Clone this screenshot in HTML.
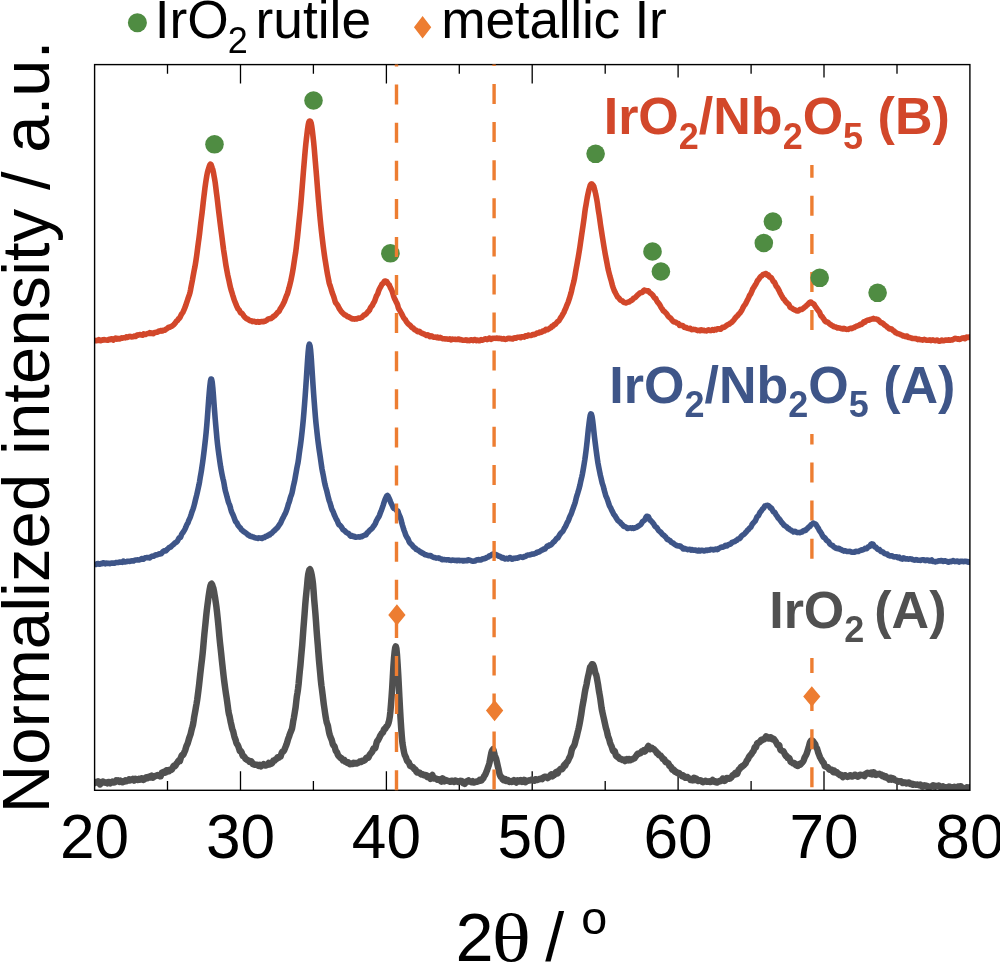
<!DOCTYPE html>
<html><head><meta charset="utf-8"><title>XRD</title>
<style>html,body{margin:0;padding:0;background:#fff}svg{display:block}text{font-family:"Liberation Sans",sans-serif}</style></head><body>
<svg width="1000" height="962" viewBox="0 0 1000 962">
<rect width="1000" height="962" fill="#fff"/>
<path d="M167.5,64.6v9.2M167.5,790.3v-9.2M240.5,64.6v19M240.5,790.3v-19M313.4,64.6v9.2M313.4,790.3v-9.2M386.4,64.6v19M386.4,790.3v-19M459.3,64.6v9.2M459.3,790.3v-9.2M532.2,64.6v19M532.2,790.3v-19M605.2,64.6v9.2M605.2,790.3v-9.2M678.1,64.6v12.9M678.1,790.3v-19M751.1,64.6v9.2M751.1,790.3v-9.2M824.0,64.6v12.9M824.0,790.3v-19M897.0,64.6v9.2M897.0,790.3v-9.2" stroke="#000" stroke-width="1.3" fill="none"/>
<clipPath id="cp"><rect x="94.6" y="64.6" width="875.3" height="725.6999999999999"/></clipPath>
<g clip-path="url(#cp)" fill="none" stroke-linejoin="round" stroke-linecap="round">
<path d="M94.6,783.2 L95.2,781.9 L95.8,782.0 L96.4,782.3 L97.0,782.2 L97.6,781.8 L98.2,781.3 L98.8,781.6 L99.4,783.0 L100.0,784.4 L100.6,783.5 L101.2,782.3 L101.8,782.0 L102.4,781.6 L103.0,781.5 L103.6,782.0 L104.2,782.5 L104.8,782.6 L105.4,782.7 L106.0,782.4 L106.6,782.7 L107.2,783.3 L107.8,782.8 L108.4,782.0 L109.0,782.0 L109.6,782.9 L110.2,783.3 L110.8,782.4 L111.4,782.1 L112.0,782.2 L112.6,781.6 L113.2,781.7 L113.8,782.5 L114.4,782.4 L115.0,782.2 L115.6,781.3 L116.2,780.5 L116.8,781.1 L117.4,780.8 L118.0,780.4 L118.6,781.4 L119.2,781.8 L119.8,781.1 L120.4,780.6 L121.0,781.0 L121.6,781.7 L122.2,782.3 L122.8,782.1 L123.4,781.8 L124.0,781.8 L124.6,781.0 L125.2,780.5 L125.8,781.2 L126.4,781.3 L127.0,780.6 L127.6,780.3 L128.2,779.9 L128.8,779.4 L129.4,780.4 L130.0,780.5 L130.6,779.6 L131.2,779.7 L131.8,780.0 L132.4,779.8 L133.0,778.9 L133.6,779.2 L134.2,780.5 L134.8,780.2 L135.4,778.8 L136.0,779.0 L136.6,779.6 L137.2,779.9 L137.8,780.0 L138.4,779.4 L139.0,778.9 L139.6,779.2 L140.2,779.7 L140.8,779.4 L141.4,778.3 L142.0,778.3 L142.6,779.6 L143.2,779.9 L143.8,779.7 L144.4,779.5 L145.0,778.8 L145.6,777.8 L146.2,777.3 L146.8,777.8 L147.4,778.1 L148.0,777.2 L148.6,776.8 L149.2,777.3 L149.8,777.6 L150.4,777.3 L151.0,776.0 L151.6,775.6 L152.2,776.7 L152.8,777.6 L153.4,777.4 L154.0,776.6 L154.6,776.1 L155.2,776.0 L155.8,776.0 L156.4,775.8 L157.0,775.3 L157.6,775.1 L158.2,775.2 L158.8,775.2 L159.4,775.7 L160.0,776.4 L160.6,776.3 L161.2,774.7 L161.8,772.8 L162.4,772.4 L163.0,772.9 L163.6,772.4 L164.2,771.8 L164.8,772.7 L165.4,772.6 L166.0,771.0 L166.6,770.2 L167.2,770.3 L167.8,770.7 L168.4,771.4 L169.0,771.3 L169.6,770.3 L170.2,769.6 L170.8,769.6 L171.4,769.7 L172.0,769.3 L172.6,768.1 L173.2,766.6 L173.8,765.7 L174.4,765.8 L175.0,766.2 L175.6,765.5 L176.2,764.0 L176.8,763.2 L177.4,762.7 L178.0,761.5 L178.6,760.7 L179.2,761.3 L179.8,761.3 L180.4,759.3 L181.0,757.2 L181.6,755.8 L182.2,755.0 L182.8,755.1 L183.4,754.5 L184.0,753.0 L184.6,751.6 L185.2,750.3 L185.8,748.3 L186.4,746.2 L187.0,744.9 L187.6,743.6 L188.2,741.6 L188.8,739.5 L189.4,737.5 L190.0,735.9 L190.6,734.2 L191.2,731.5 L191.8,729.0 L192.4,726.9 L193.0,724.6 L193.6,721.0 L194.2,716.8 L194.8,713.7 L195.4,710.4 L196.0,706.8 L196.6,703.5 L197.2,699.7 L197.8,695.2 L198.4,690.5 L199.0,685.7 L199.6,680.1 L200.2,674.7 L200.8,669.5 L201.4,664.2 L202.0,659.3 L202.6,653.9 L203.2,647.6 L203.8,640.5 L204.4,633.7 L205.0,628.0 L205.6,622.1 L206.2,615.9 L206.8,610.4 L207.4,605.7 L208.0,601.1 L208.6,596.4 L209.2,592.5 L209.8,588.8 L210.4,585.9 L211.0,584.3 L211.6,583.8 L212.2,584.9 L212.8,586.7 L213.4,588.4 L214.0,591.3 L214.6,595.0 L215.2,598.4 L215.8,602.4 L216.4,606.7 L217.0,611.8 L217.6,617.7 L218.2,623.5 L218.8,630.0 L219.4,636.7 L220.0,642.8 L220.6,648.2 L221.2,653.6 L221.8,659.6 L222.4,665.1 L223.0,670.6 L223.6,676.0 L224.2,681.0 L224.8,685.5 L225.4,689.9 L226.0,693.9 L226.6,697.7 L227.2,702.0 L227.8,706.4 L228.4,711.1 L229.0,714.3 L229.6,716.3 L230.2,719.5 L230.8,722.5 L231.4,725.0 L232.0,727.9 L232.6,729.8 L233.2,731.4 L233.8,734.1 L234.4,736.6 L235.0,738.3 L235.6,739.9 L236.2,742.3 L236.8,743.9 L237.4,744.4 L238.0,745.6 L238.6,747.2 L239.2,749.0 L239.8,750.9 L240.4,751.4 L241.0,751.3 L241.6,752.2 L242.2,754.3 L242.8,756.0 L243.4,756.1 L244.0,756.4 L244.6,757.2 L245.2,758.4 L245.8,759.3 L246.4,759.3 L247.0,759.6 L247.6,760.3 L248.2,760.3 L248.8,760.7 L249.4,761.8 L250.0,762.0 L250.6,761.6 L251.2,761.4 L251.8,762.0 L252.4,763.2 L253.0,764.1 L253.6,764.4 L254.2,764.7 L254.8,764.6 L255.4,764.5 L256.0,764.8 L256.6,764.9 L257.2,764.8 L257.8,765.4 L258.4,765.8 L259.0,765.2 L259.6,764.9 L260.2,765.8 L260.8,766.3 L261.4,765.4 L262.0,764.8 L262.6,765.3 L263.2,765.1 L263.8,764.3 L264.4,764.9 L265.0,765.4 L265.6,765.0 L266.2,765.4 L266.8,765.1 L267.4,764.2 L268.0,763.7 L268.6,763.0 L269.2,763.6 L269.8,764.3 L270.4,763.9 L271.0,763.9 L271.6,763.6 L272.2,763.1 L272.8,761.9 L273.4,760.4 L274.0,760.5 L274.6,760.7 L275.2,759.6 L275.8,759.2 L276.4,759.3 L277.0,758.4 L277.6,757.2 L278.2,757.4 L278.8,757.6 L279.4,757.0 L280.0,756.9 L280.6,756.5 L281.2,754.6 L281.8,752.6 L282.4,751.6 L283.0,751.6 L283.6,751.3 L284.2,750.2 L284.8,748.8 L285.4,747.2 L286.0,745.8 L286.6,744.2 L287.2,742.3 L287.8,740.1 L288.4,738.2 L289.0,736.8 L289.6,734.8 L290.2,733.2 L290.8,731.7 L291.4,730.3 L292.0,728.7 L292.6,725.2 L293.2,721.2 L293.8,718.3 L294.4,714.8 L295.0,711.0 L295.6,707.4 L296.2,702.0 L296.8,696.8 L297.4,693.3 L298.0,689.2 L298.6,684.1 L299.2,677.5 L299.8,671.3 L300.4,665.6 L301.0,658.5 L301.6,651.8 L302.2,645.2 L302.8,637.1 L303.4,628.8 L304.0,621.2 L304.6,613.4 L305.2,605.3 L305.8,598.2 L306.4,592.2 L307.0,586.2 L307.6,579.5 L308.2,574.5 L308.8,571.7 L309.4,569.8 L310.0,569.2 L310.6,570.5 L311.2,572.7 L311.8,575.5 L312.4,579.2 L313.0,584.0 L313.6,591.3 L314.2,599.7 L314.8,606.5 L315.4,613.5 L316.0,621.6 L316.6,630.2 L317.2,637.9 L317.8,645.1 L318.4,653.0 L319.0,660.5 L319.6,666.9 L320.2,673.3 L320.8,679.9 L321.4,685.4 L322.0,689.8 L322.6,694.5 L323.2,699.5 L323.8,704.3 L324.4,708.4 L325.0,712.6 L325.6,716.5 L326.2,719.9 L326.8,722.7 L327.4,724.3 L328.0,726.3 L328.6,729.7 L329.2,732.9 L329.8,735.0 L330.4,736.8 L331.0,738.2 L331.6,739.6 L332.2,741.7 L332.8,744.1 L333.4,745.3 L334.0,745.7 L334.6,746.7 L335.2,748.8 L335.8,751.0 L336.4,751.6 L337.0,752.3 L337.6,754.1 L338.2,755.5 L338.8,756.1 L339.4,756.7 L340.0,757.4 L340.6,757.9 L341.2,758.0 L341.8,758.5 L342.4,759.5 L343.0,760.5 L343.6,760.5 L344.2,759.9 L344.8,760.8 L345.4,761.8 L346.0,761.7 L346.6,762.2 L347.2,762.9 L347.8,762.8 L348.4,762.4 L349.0,762.9 L349.6,764.0 L350.2,764.3 L350.8,763.8 L351.4,763.6 L352.0,764.0 L352.6,764.0 L353.2,763.0 L353.8,762.7 L354.4,763.1 L355.0,762.9 L355.6,763.0 L356.2,763.6 L356.8,763.5 L357.4,763.1 L358.0,762.9 L358.6,762.4 L359.2,762.2 L359.8,761.5 L360.4,761.4 L361.0,762.0 L361.6,761.6 L362.2,760.8 L362.8,760.8 L363.4,760.9 L364.0,760.4 L364.6,760.2 L365.2,759.8 L365.8,758.6 L366.4,757.7 L367.0,757.6 L367.6,757.9 L368.2,757.8 L368.8,756.8 L369.4,755.3 L370.0,754.4 L370.6,753.8 L371.2,752.9 L371.8,752.3 L372.4,751.3 L373.0,749.6 L373.6,748.5 L374.2,748.2 L374.8,748.5 L375.4,747.7 L376.0,745.3 L376.6,742.7 L377.2,741.0 L377.8,740.6 L378.4,739.7 L379.0,738.4 L379.6,737.3 L380.2,735.8 L380.8,734.9 L381.4,734.0 L382.0,732.9 L382.6,732.9 L383.2,732.0 L383.8,729.7 L384.4,728.8 L385.0,729.1 L385.6,728.3 L386.2,726.9 L386.8,726.3 L387.4,725.6 L388.0,724.4 L388.6,722.7 L389.2,720.2 L389.8,716.8 L390.4,711.4 L391.0,704.4 L391.6,696.6 L392.2,687.6 L392.8,677.1 L393.4,666.8 L394.0,658.4 L394.6,652.0 L395.2,647.8 L395.8,646.4 L396.4,648.6 L397.0,654.9 L397.6,663.9 L398.2,674.0 L398.8,685.2 L399.4,697.2 L400.0,708.5 L400.6,719.0 L401.2,728.2 L401.8,736.3 L402.4,742.7 L403.0,746.7 L403.6,749.9 L404.2,753.0 L404.8,755.2 L405.4,756.2 L406.0,757.6 L406.6,759.5 L407.2,760.9 L407.8,761.6 L408.4,761.9 L409.0,762.8 L409.6,764.5 L410.2,765.9 L410.8,766.2 L411.4,766.5 L412.0,766.9 L412.6,766.9 L413.2,767.5 L413.8,768.4 L414.4,769.2 L415.0,769.3 L415.6,769.7 L416.2,771.4 L416.8,772.3 L417.4,771.9 L418.0,772.1 L418.6,772.8 L419.2,772.7 L419.8,772.8 L420.4,773.7 L421.0,774.2 L421.6,774.6 L422.2,774.6 L422.8,774.3 L423.4,774.9 L424.0,775.3 L424.6,775.0 L425.2,775.0 L425.8,774.9 L426.4,775.3 L427.0,776.7 L427.6,777.2 L428.2,777.2 L428.8,777.3 L429.4,776.8 L430.0,777.5 L430.6,778.8 L431.2,778.1 L431.8,775.7 L432.4,775.0 L433.0,776.8 L433.6,778.4 L434.2,778.3 L434.8,778.4 L435.4,778.7 L436.0,778.5 L436.6,779.0 L437.2,779.7 L437.8,779.8 L438.4,779.4 L439.0,779.3 L439.6,779.5 L440.2,779.9 L440.8,781.1 L441.4,781.5 L442.0,779.5 L442.6,778.3 L443.2,779.2 L443.8,780.5 L444.4,781.3 L445.0,781.0 L445.6,780.0 L446.2,780.1 L446.8,780.7 L447.4,780.6 L448.0,780.9 L448.6,781.1 L449.2,781.4 L449.8,781.7 L450.4,781.8 L451.0,781.4 L451.6,780.7 L452.2,780.9 L452.8,781.3 L453.4,781.7 L454.0,781.9 L454.6,781.2 L455.2,780.5 L455.8,780.6 L456.4,781.2 L457.0,781.5 L457.6,781.5 L458.2,782.0 L458.8,781.9 L459.4,781.1 L460.0,780.8 L460.6,781.5 L461.2,781.6 L461.8,781.1 L462.4,782.3 L463.0,783.1 L463.6,782.5 L464.2,782.8 L464.8,783.7 L465.4,782.9 L466.0,781.6 L466.6,781.4 L467.2,781.6 L467.8,780.9 L468.4,780.5 L469.0,781.3 L469.6,781.6 L470.2,781.6 L470.8,781.9 L471.4,782.1 L472.0,781.5 L472.6,781.2 L473.2,782.1 L473.8,782.5 L474.4,782.2 L475.0,782.3 L475.6,781.8 L476.2,781.6 L476.8,781.8 L477.4,781.5 L478.0,781.3 L478.6,781.1 L479.2,780.6 L479.8,779.8 L480.4,779.9 L481.0,780.6 L481.6,780.3 L482.2,779.4 L482.8,778.8 L483.4,778.0 L484.0,776.5 L484.6,775.5 L485.2,774.8 L485.8,773.4 L486.4,771.8 L487.0,770.4 L487.6,768.5 L488.2,766.8 L488.8,765.3 L489.4,763.0 L490.0,760.0 L490.6,756.7 L491.2,753.5 L491.8,751.4 L492.4,750.0 L493.0,749.3 L493.6,750.4 L494.2,753.0 L494.8,755.4 L495.4,756.9 L496.0,758.4 L496.6,760.8 L497.2,763.5 L497.8,766.2 L498.4,768.7 L499.0,771.6 L499.6,774.3 L500.2,775.8 L500.8,776.9 L501.4,777.1 L502.0,777.6 L502.6,779.3 L503.2,780.0 L503.8,779.5 L504.4,779.1 L505.0,779.1 L505.6,780.0 L506.2,781.0 L506.8,780.7 L507.4,780.0 L508.0,780.0 L508.6,781.1 L509.2,781.9 L509.8,781.9 L510.4,781.2 L511.0,781.1 L511.6,782.0 L512.2,781.8 L512.8,781.5 L513.4,781.2 L514.0,780.3 L514.6,780.7 L515.2,781.5 L515.8,782.0 L516.4,782.5 L517.0,781.6 L517.6,780.4 L518.2,780.7 L518.8,781.5 L519.4,781.2 L520.0,780.2 L520.6,780.1 L521.2,781.3 L521.8,781.7 L522.4,780.8 L523.0,780.7 L523.6,780.9 L524.2,779.8 L524.8,780.7 L525.4,782.2 L526.0,781.6 L526.6,780.7 L527.2,780.7 L527.8,780.9 L528.4,780.5 L529.0,780.6 L529.6,780.5 L530.2,780.3 L530.8,780.3 L531.4,779.7 L532.0,779.6 L532.6,780.0 L533.2,780.1 L533.8,780.6 L534.4,780.7 L535.0,779.9 L535.6,779.3 L536.2,779.2 L536.8,779.6 L537.4,779.9 L538.0,779.7 L538.6,779.5 L539.2,779.1 L539.8,778.9 L540.4,779.0 L541.0,778.5 L541.6,778.9 L542.2,779.2 L542.8,778.2 L543.4,777.5 L544.0,777.0 L544.6,776.8 L545.2,776.7 L545.8,776.8 L546.4,777.1 L547.0,777.7 L547.6,778.1 L548.2,777.7 L548.8,777.1 L549.4,776.5 L550.0,775.8 L550.6,774.9 L551.2,774.4 L551.8,775.4 L552.4,776.3 L553.0,775.5 L553.6,774.9 L554.2,775.0 L554.8,774.0 L555.4,772.8 L556.0,772.1 L556.6,771.9 L557.2,772.7 L557.8,773.2 L558.4,771.8 L559.0,770.4 L559.6,770.0 L560.2,769.4 L560.8,768.7 L561.4,768.9 L562.0,769.1 L562.6,768.5 L563.2,767.4 L563.8,765.5 L564.4,764.8 L565.0,765.7 L565.6,764.9 L566.2,762.9 L566.8,762.1 L567.4,761.7 L568.0,760.9 L568.6,759.5 L569.2,758.0 L569.8,757.0 L570.4,755.8 L571.0,753.7 L571.6,750.7 L572.2,748.6 L572.8,747.7 L573.4,746.6 L574.0,745.8 L574.6,744.5 L575.2,742.1 L575.8,739.6 L576.4,737.7 L577.0,735.4 L577.6,732.6 L578.2,730.3 L578.8,727.7 L579.4,724.8 L580.0,721.7 L580.6,718.1 L581.2,714.6 L581.8,710.6 L582.4,706.6 L583.0,703.4 L583.6,700.2 L584.2,696.4 L584.8,692.6 L585.4,689.3 L586.0,686.9 L586.6,684.1 L587.2,680.6 L587.8,677.6 L588.4,675.1 L589.0,672.6 L589.6,669.3 L590.2,666.9 L590.8,666.5 L591.4,665.4 L592.0,664.3 L592.6,664.2 L593.2,664.9 L593.8,666.4 L594.4,668.7 L595.0,671.8 L595.6,673.8 L596.2,674.9 L596.8,677.6 L597.4,681.0 L598.0,684.3 L598.6,688.5 L599.2,692.4 L599.8,695.5 L600.4,699.3 L601.0,703.8 L601.6,708.1 L602.2,711.3 L602.8,713.9 L603.4,716.6 L604.0,719.3 L604.6,722.0 L605.2,724.8 L605.8,727.5 L606.4,729.4 L607.0,731.6 L607.6,734.7 L608.2,736.9 L608.8,738.1 L609.4,740.1 L610.0,742.6 L610.6,744.2 L611.2,745.4 L611.8,747.0 L612.4,748.9 L613.0,750.8 L613.6,751.4 L614.2,750.8 L614.8,751.4 L615.4,753.8 L616.0,755.7 L616.6,756.4 L617.2,756.8 L617.8,756.5 L618.4,756.8 L619.0,758.1 L619.6,759.0 L620.2,758.9 L620.8,758.7 L621.4,759.1 L622.0,759.7 L622.6,760.1 L623.2,759.9 L623.8,759.6 L624.4,760.2 L625.0,761.0 L625.6,760.6 L626.2,759.7 L626.8,759.2 L627.4,759.8 L628.0,760.2 L628.6,759.1 L629.2,759.0 L629.8,760.1 L630.4,760.2 L631.0,759.6 L631.6,759.5 L632.2,759.5 L632.8,759.0 L633.4,758.7 L634.0,758.5 L634.6,758.2 L635.2,757.3 L635.8,756.4 L636.4,755.7 L637.0,754.5 L637.6,753.8 L638.2,754.1 L638.8,753.8 L639.4,753.3 L640.0,753.1 L640.6,753.3 L641.2,752.4 L641.8,751.2 L642.4,751.4 L643.0,751.3 L643.6,750.5 L644.2,750.9 L644.8,751.5 L645.4,750.7 L646.0,749.3 L646.6,748.8 L647.2,748.5 L647.8,747.0 L648.4,746.0 L649.0,746.8 L649.6,748.1 L650.2,749.2 L650.8,748.8 L651.4,747.7 L652.0,748.0 L652.6,748.7 L653.2,748.8 L653.8,749.0 L654.4,749.8 L655.0,750.4 L655.6,750.9 L656.2,751.8 L656.8,753.1 L657.4,753.3 L658.0,753.2 L658.6,754.6 L659.2,755.3 L659.8,755.3 L660.4,755.4 L661.0,756.1 L661.6,757.0 L662.2,757.8 L662.8,758.9 L663.4,759.1 L664.0,759.0 L664.6,760.0 L665.2,761.5 L665.8,762.1 L666.4,762.1 L667.0,762.6 L667.6,763.0 L668.2,763.1 L668.8,764.2 L669.4,765.9 L670.0,766.3 L670.6,766.4 L671.2,767.2 L671.8,768.9 L672.4,769.7 L673.0,769.5 L673.6,769.5 L674.2,770.2 L674.8,771.6 L675.4,771.8 L676.0,771.6 L676.6,772.5 L677.2,773.0 L677.8,773.2 L678.4,773.3 L679.0,773.1 L679.6,773.6 L680.2,774.5 L680.8,774.6 L681.4,775.1 L682.0,776.2 L682.6,776.0 L683.2,775.4 L683.8,775.9 L684.4,777.1 L685.0,777.7 L685.6,777.8 L686.2,777.5 L686.8,776.9 L687.4,777.0 L688.0,777.7 L688.6,778.3 L689.2,778.2 L689.8,778.6 L690.4,779.9 L691.0,779.6 L691.6,779.4 L692.2,780.3 L692.8,780.4 L693.4,779.2 L694.0,777.8 L694.6,778.7 L695.2,780.0 L695.8,779.6 L696.4,778.7 L697.0,779.1 L697.6,780.7 L698.2,781.0 L698.8,780.3 L699.4,780.4 L700.0,780.5 L700.6,780.2 L701.2,780.6 L701.8,781.4 L702.4,782.0 L703.0,782.2 L703.6,781.6 L704.2,781.2 L704.8,781.3 L705.4,780.8 L706.0,780.9 L706.6,781.7 L707.2,781.7 L707.8,781.7 L708.4,781.7 L709.0,781.3 L709.6,781.8 L710.2,782.1 L710.8,781.8 L711.4,781.6 L712.0,780.6 L712.6,780.0 L713.2,780.5 L713.8,781.2 L714.4,781.9 L715.0,781.8 L715.6,781.3 L716.2,781.7 L716.8,782.6 L717.4,782.5 L718.0,781.9 L718.6,781.5 L719.2,781.0 L719.8,781.0 L720.4,781.2 L721.0,781.0 L721.6,780.5 L722.2,779.4 L722.8,778.5 L723.4,778.6 L724.0,779.7 L724.6,780.9 L725.2,780.5 L725.8,778.8 L726.4,778.3 L727.0,779.2 L727.6,778.9 L728.2,778.1 L728.8,778.5 L729.4,778.7 L730.0,778.5 L730.6,778.1 L731.2,777.6 L731.8,776.7 L732.4,775.6 L733.0,775.1 L733.6,775.1 L734.2,774.8 L734.8,773.6 L735.4,772.9 L736.0,773.6 L736.6,774.1 L737.2,773.8 L737.8,772.3 L738.4,770.3 L739.0,769.4 L739.6,769.2 L740.2,768.3 L740.8,767.1 L741.4,767.2 L742.0,766.9 L742.6,765.8 L743.2,765.6 L743.8,765.4 L744.4,764.6 L745.0,764.0 L745.6,763.3 L746.2,762.0 L746.8,760.7 L747.4,759.9 L748.0,759.2 L748.6,757.7 L749.2,756.5 L749.8,756.0 L750.4,755.0 L751.0,754.5 L751.6,754.0 L752.2,752.7 L752.8,751.7 L753.4,751.2 L754.0,749.8 L754.6,747.5 L755.2,746.9 L755.8,747.4 L756.4,746.0 L757.0,743.7 L757.6,743.0 L758.2,742.9 L758.8,742.4 L759.4,742.2 L760.0,741.8 L760.6,740.8 L761.2,739.9 L761.8,740.3 L762.4,740.3 L763.0,739.2 L763.6,739.2 L764.2,739.2 L764.8,738.4 L765.4,737.3 L766.0,736.3 L766.6,736.5 L767.2,737.6 L767.8,738.3 L768.4,738.5 L769.0,738.5 L769.6,738.2 L770.2,737.4 L770.8,737.2 L771.4,738.3 L772.0,739.1 L772.6,738.9 L773.2,738.6 L773.8,739.0 L774.4,739.8 L775.0,740.7 L775.6,741.4 L776.2,742.4 L776.8,743.6 L777.4,744.8 L778.0,745.4 L778.6,744.8 L779.2,745.1 L779.8,747.6 L780.4,749.6 L781.0,750.3 L781.6,750.5 L782.2,751.0 L782.8,751.2 L783.4,751.3 L784.0,752.4 L784.6,753.8 L785.2,755.0 L785.8,755.9 L786.4,755.7 L787.0,756.5 L787.6,758.0 L788.2,757.9 L788.8,757.7 L789.4,758.3 L790.0,759.9 L790.6,761.7 L791.2,762.3 L791.8,762.3 L792.4,762.6 L793.0,763.3 L793.6,763.4 L794.2,763.1 L794.8,763.6 L795.4,764.7 L796.0,765.3 L796.6,765.2 L797.2,765.8 L797.8,766.0 L798.4,764.6 L799.0,764.1 L799.6,764.9 L800.2,764.8 L800.8,764.0 L801.4,763.4 L802.0,762.7 L802.6,762.1 L803.2,761.3 L803.8,760.1 L804.4,758.2 L805.0,756.9 L805.6,755.9 L806.2,754.7 L806.8,753.4 L807.4,751.4 L808.0,749.4 L808.6,747.7 L809.2,745.4 L809.8,743.0 L810.4,741.6 L811.0,740.8 L811.6,740.3 L812.2,740.5 L812.8,740.9 L813.4,741.6 L814.0,742.7 L814.6,743.4 L815.2,744.2 L815.8,746.2 L816.4,747.6 L817.0,748.4 L817.6,750.4 L818.2,752.5 L818.8,754.1 L819.4,755.7 L820.0,757.2 L820.6,758.3 L821.2,759.3 L821.8,760.4 L822.4,761.5 L823.0,762.3 L823.6,762.7 L824.2,764.3 L824.8,766.1 L825.4,766.5 L826.0,766.7 L826.6,767.1 L827.2,766.9 L827.8,767.2 L828.4,768.0 L829.0,769.1 L829.6,769.7 L830.2,769.9 L830.8,770.0 L831.4,769.7 L832.0,769.9 L832.6,771.3 L833.2,772.1 L833.8,771.2 L834.4,770.8 L835.0,772.1 L835.6,772.5 L836.2,772.0 L836.8,772.1 L837.4,772.8 L838.0,773.8 L838.6,774.0 L839.2,774.2 L839.8,775.3 L840.4,775.2 L841.0,774.8 L841.6,775.3 L842.2,776.1 L842.8,777.1 L843.4,776.7 L844.0,775.6 L844.6,775.2 L845.2,775.3 L845.8,775.8 L846.4,776.1 L847.0,776.4 L847.6,776.9 L848.2,776.6 L848.8,776.5 L849.4,776.3 L850.0,775.2 L850.6,775.4 L851.2,776.4 L851.8,776.5 L852.4,776.5 L853.0,776.4 L853.6,776.0 L854.2,775.5 L854.8,774.7 L855.4,774.9 L856.0,775.9 L856.6,775.5 L857.2,775.6 L857.8,776.7 L858.4,776.5 L859.0,775.4 L859.6,774.9 L860.2,774.8 L860.8,774.7 L861.4,775.1 L862.0,775.2 L862.6,775.1 L863.2,775.3 L863.8,775.7 L864.4,776.1 L865.0,775.2 L865.6,773.8 L866.2,773.7 L866.8,773.0 L867.4,772.8 L868.0,773.4 L868.6,773.3 L869.2,773.4 L869.8,773.8 L870.4,773.0 L871.0,772.7 L871.6,773.6 L872.2,774.3 L872.8,773.5 L873.4,772.3 L874.0,772.4 L874.6,773.7 L875.2,774.8 L875.8,774.9 L876.4,774.7 L877.0,774.6 L877.6,774.1 L878.2,774.3 L878.8,774.3 L879.4,773.8 L880.0,774.3 L880.6,774.7 L881.2,774.6 L881.8,775.4 L882.4,776.3 L883.0,776.1 L883.6,775.6 L884.2,776.2 L884.8,777.3 L885.4,777.1 L886.0,776.5 L886.6,777.2 L887.2,778.0 L887.8,777.9 L888.4,778.6 L889.0,779.5 L889.6,778.8 L890.2,777.9 L890.8,777.7 L891.4,778.5 L892.0,779.7 L892.6,779.2 L893.2,778.4 L893.8,778.8 L894.4,779.8 L895.0,780.3 L895.6,780.3 L896.2,780.6 L896.8,780.7 L897.4,781.1 L898.0,781.7 L898.6,781.6 L899.2,781.3 L899.8,781.5 L900.4,781.6 L901.0,781.3 L901.6,781.9 L902.2,782.9 L902.8,783.1 L903.4,782.8 L904.0,782.6 L904.6,782.6 L905.2,782.5 L905.8,782.8 L906.4,783.5 L907.0,783.3 L907.6,782.8 L908.2,782.4 L908.8,782.5 L909.4,783.5 L910.0,783.9 L910.6,783.6 L911.2,783.5 L911.8,783.9 L912.4,784.8 L913.0,784.7 L913.6,784.2 L914.2,784.6 L914.8,784.6 L915.4,784.4 L916.0,784.8 L916.6,784.8 L917.2,784.5 L917.8,784.6 L918.4,785.0 L919.0,785.2 L919.6,784.9 L920.2,784.5 L920.8,784.9 L921.4,785.9 L922.0,786.4 L922.6,786.4 L923.2,786.5 L923.8,785.8 L924.4,785.3 L925.0,785.6 L925.6,785.6 L926.2,786.2 L926.8,786.6 L927.4,786.1 L928.0,786.7 L928.6,787.7 L929.2,787.1 L929.8,786.7 L930.4,786.8 L931.0,786.5 L931.6,786.4 L932.2,785.9 L932.8,785.5 L933.4,786.3 L934.0,786.0 L934.6,785.8 L935.2,786.6 L935.8,786.4 L936.4,786.0 L937.0,786.1 L937.6,785.9 L938.2,785.6 L938.8,785.5 L939.4,786.0 L940.0,786.9 L940.6,787.2 L941.2,787.4 L941.8,787.6 L942.4,787.1 L943.0,786.5 L943.6,787.2 L944.2,788.0 L944.8,787.7 L945.4,787.3 L946.0,787.3 L946.6,787.5 L947.2,787.6 L947.8,787.3 L948.4,787.0 L949.0,786.5 L949.6,786.7 L950.2,787.6 L950.8,788.2 L951.4,788.2 L952.0,787.5 L952.6,787.2 L953.2,787.8 L953.8,787.6 L954.4,787.0 L955.0,787.7 L955.6,788.6 L956.2,788.4 L956.8,787.0 L957.4,786.8 L958.0,787.2 L958.6,786.6 L959.2,786.4 L959.8,786.5 L960.4,786.2 L961.0,786.2 L961.6,787.3 L962.2,788.4 L962.8,788.5 L963.4,788.1 L964.0,788.2 L964.6,788.8 L965.2,788.9 L965.8,788.2 L966.4,787.4 L967.0,787.3 L967.6,787.5 L968.2,787.9 L968.8,787.9 L969.4,787.4" stroke="#505050" stroke-width="6.5"/>
<path d="M811.9,165.0V177.7M811.9,195.8V215.8M811.9,233.9V253.9M811.9,272.0V292.0M811.9,310.1V330.1M811.9,434.0V444.4M811.9,462.5V482.5M811.9,500.6V520.6M811.9,538.7V558.7M811.9,658.0V673.0M811.9,691.1V711.1M811.9,729.2V749.2M811.9,767.3V787.3" stroke="#ED7D31" stroke-width="3.4" stroke-linecap="butt"/>
<path d="M94.6,564.4 L95.2,564.5 L95.8,564.5 L96.4,564.2 L97.0,563.8 L97.6,563.5 L98.2,563.6 L98.8,564.0 L99.4,564.3 L100.0,564.1 L100.6,563.7 L101.2,563.5 L101.8,563.7 L102.4,563.4 L103.0,562.8 L103.6,562.8 L104.2,563.1 L104.8,563.4 L105.4,563.8 L106.0,563.5 L106.6,563.0 L107.2,563.3 L107.8,563.5 L108.4,563.3 L109.0,563.3 L109.6,563.6 L110.2,563.6 L110.8,563.3 L111.4,563.0 L112.0,563.1 L112.6,563.1 L113.2,563.1 L113.8,563.2 L114.4,563.3 L115.0,563.0 L115.6,562.7 L116.2,562.5 L116.8,562.5 L117.4,562.5 L118.0,562.6 L118.6,562.5 L119.2,562.1 L119.8,562.1 L120.4,562.3 L121.0,562.1 L121.6,562.0 L122.2,562.3 L122.8,561.9 L123.4,561.1 L124.0,561.4 L124.6,562.0 L125.2,561.9 L125.8,561.7 L126.4,561.7 L127.0,561.4 L127.6,561.2 L128.2,561.2 L128.8,561.3 L129.4,561.4 L130.0,561.4 L130.6,561.2 L131.2,561.1 L131.8,560.7 L132.4,560.7 L133.0,561.0 L133.6,560.9 L134.2,560.6 L134.8,560.3 L135.4,560.0 L136.0,560.0 L136.6,560.0 L137.2,559.8 L137.8,559.8 L138.4,560.0 L139.0,560.0 L139.6,559.7 L140.2,559.6 L140.8,559.4 L141.4,558.7 L142.0,558.6 L142.6,559.2 L143.2,559.3 L143.8,558.8 L144.4,558.4 L145.0,557.9 L145.6,557.7 L146.2,557.7 L146.8,557.6 L147.4,557.6 L148.0,557.5 L148.6,557.6 L149.2,558.0 L149.8,557.8 L150.4,557.2 L151.0,556.8 L151.6,556.3 L152.2,556.1 L152.8,556.3 L153.4,556.3 L154.0,555.8 L154.6,555.6 L155.2,555.2 L155.8,554.7 L156.4,554.9 L157.0,555.0 L157.6,554.6 L158.2,554.4 L158.8,554.1 L159.4,553.7 L160.0,553.8 L160.6,553.9 L161.2,553.7 L161.8,553.1 L162.4,552.2 L163.0,551.6 L163.6,551.2 L164.2,550.8 L164.8,550.7 L165.4,551.0 L166.0,550.7 L166.6,550.0 L167.2,549.5 L167.8,548.8 L168.4,548.3 L169.0,547.7 L169.6,547.3 L170.2,547.2 L170.8,546.9 L171.4,546.3 L172.0,545.6 L172.6,545.1 L173.2,544.6 L173.8,544.2 L174.4,543.6 L175.0,542.9 L175.6,542.5 L176.2,542.3 L176.8,541.8 L177.4,541.1 L178.0,540.0 L178.6,538.7 L179.2,537.8 L179.8,537.5 L180.4,537.4 L181.0,536.2 L181.6,534.4 L182.2,533.4 L182.8,532.7 L183.4,531.7 L184.0,530.9 L184.6,529.9 L185.2,528.6 L185.8,527.2 L186.4,525.7 L187.0,524.4 L187.6,523.4 L188.2,522.2 L188.8,520.4 L189.4,519.1 L190.0,517.8 L190.6,516.2 L191.2,514.4 L191.8,512.4 L192.4,510.7 L193.0,509.2 L193.6,507.4 L194.2,505.1 L194.8,502.7 L195.4,500.1 L196.0,497.7 L196.6,495.4 L197.2,492.8 L197.8,490.1 L198.4,487.3 L199.0,484.7 L199.6,481.4 L200.2,477.6 L200.8,474.3 L201.4,470.7 L202.0,466.6 L202.6,462.6 L203.2,458.2 L203.8,453.3 L204.4,448.3 L205.0,443.2 L205.6,437.8 L206.2,431.8 L206.8,425.0 L207.4,417.3 L208.0,409.0 L208.6,400.7 L209.2,393.2 L209.8,386.5 L210.4,381.5 L211.0,379.0 L211.6,379.2 L212.2,382.1 L212.8,387.7 L213.4,395.3 L214.0,403.4 L214.6,411.2 L215.2,418.9 L215.8,425.8 L216.4,432.6 L217.0,439.2 L217.6,444.7 L218.2,449.6 L218.8,454.2 L219.4,458.4 L220.0,462.6 L220.6,466.6 L221.2,470.0 L221.8,473.2 L222.4,476.2 L223.0,478.9 L223.6,481.3 L224.2,484.5 L224.8,488.2 L225.4,491.0 L226.0,493.0 L226.6,495.3 L227.2,497.6 L227.8,499.7 L228.4,502.0 L229.0,503.6 L229.6,504.9 L230.2,506.8 L230.8,509.2 L231.4,511.3 L232.0,512.7 L232.6,513.9 L233.2,515.3 L233.8,516.8 L234.4,518.4 L235.0,520.2 L235.6,521.6 L236.2,522.2 L236.8,522.8 L237.4,524.0 L238.0,525.2 L238.6,526.0 L239.2,526.7 L239.8,527.4 L240.4,527.9 L241.0,529.0 L241.6,529.9 L242.2,530.2 L242.8,530.8 L243.4,531.5 L244.0,531.7 L244.6,532.1 L245.2,532.5 L245.8,533.0 L246.4,533.4 L247.0,533.9 L247.6,534.5 L248.2,535.0 L248.8,535.1 L249.4,535.4 L250.0,536.2 L250.6,536.4 L251.2,536.2 L251.8,536.6 L252.4,537.0 L253.0,537.0 L253.6,537.1 L254.2,537.5 L254.8,537.7 L255.4,537.8 L256.0,538.0 L256.6,538.1 L257.2,538.2 L257.8,538.4 L258.4,538.1 L259.0,537.8 L259.6,538.0 L260.2,538.1 L260.8,538.0 L261.4,538.2 L262.0,538.5 L262.6,538.1 L263.2,537.6 L263.8,537.5 L264.4,537.5 L265.0,537.0 L265.6,536.3 L266.2,536.1 L266.8,536.3 L267.4,536.0 L268.0,535.2 L268.6,535.0 L269.2,535.2 L269.8,534.8 L270.4,533.9 L271.0,533.5 L271.6,533.4 L272.2,532.7 L272.8,532.0 L273.4,531.4 L274.0,530.8 L274.6,530.5 L275.2,529.9 L275.8,529.0 L276.4,528.6 L277.0,528.2 L277.6,527.5 L278.2,526.5 L278.8,525.6 L279.4,524.8 L280.0,523.9 L280.6,523.0 L281.2,521.7 L281.8,520.2 L282.4,519.0 L283.0,517.9 L283.6,516.7 L284.2,515.4 L284.8,514.2 L285.4,513.2 L286.0,511.7 L286.6,510.1 L287.2,508.4 L287.8,506.3 L288.4,504.1 L289.0,502.5 L289.6,500.7 L290.2,498.3 L290.8,496.3 L291.4,494.9 L292.0,493.0 L292.6,490.1 L293.2,486.9 L293.8,484.4 L294.4,481.9 L295.0,478.7 L295.6,475.2 L296.2,472.0 L296.8,468.5 L297.4,465.5 L298.0,462.7 L298.6,458.6 L299.2,453.8 L299.8,449.6 L300.4,445.6 L301.0,441.0 L301.6,436.0 L302.2,430.5 L302.8,424.8 L303.4,418.5 L304.0,411.3 L304.6,403.6 L305.2,395.6 L305.8,387.1 L306.4,378.1 L307.0,368.7 L307.6,359.6 L308.2,351.7 L308.8,346.1 L309.4,344.2 L310.0,345.7 L310.6,349.9 L311.2,357.1 L311.8,366.1 L312.4,375.5 L313.0,384.7 L313.6,393.4 L314.2,401.5 L314.8,409.2 L315.4,416.8 L316.0,423.3 L316.6,428.8 L317.2,434.3 L317.8,439.5 L318.4,444.2 L319.0,448.6 L319.6,452.7 L320.2,456.6 L320.8,460.8 L321.4,465.0 L322.0,469.0 L322.6,472.2 L323.2,475.0 L323.8,478.2 L324.4,481.7 L325.0,484.5 L325.6,486.8 L326.2,488.9 L326.8,491.1 L327.4,493.7 L328.0,496.1 L328.6,498.5 L329.2,500.7 L329.8,502.2 L330.4,504.2 L331.0,506.4 L331.6,508.4 L332.2,510.0 L332.8,511.0 L333.4,512.4 L334.0,514.2 L334.6,515.6 L335.2,516.8 L335.8,518.1 L336.4,519.5 L337.0,520.3 L337.6,521.5 L338.2,523.3 L338.8,524.5 L339.4,525.0 L340.0,525.3 L340.6,525.9 L341.2,526.7 L341.8,527.5 L342.4,528.6 L343.0,529.7 L343.6,530.2 L344.2,530.4 L344.8,530.8 L345.4,531.6 L346.0,532.2 L346.6,532.5 L347.2,532.9 L347.8,533.2 L348.4,533.4 L349.0,534.1 L349.6,534.9 L350.2,535.7 L350.8,536.1 L351.4,535.7 L352.0,535.6 L352.6,536.3 L353.2,536.6 L353.8,536.3 L354.4,536.3 L355.0,537.0 L355.6,537.3 L356.2,537.1 L356.8,537.0 L357.4,537.0 L358.0,536.9 L358.6,536.9 L359.2,537.0 L359.8,537.1 L360.4,536.7 L361.0,536.5 L361.6,536.7 L362.2,536.4 L362.8,535.9 L363.4,535.7 L364.0,535.5 L364.6,535.1 L365.2,535.0 L365.8,535.0 L366.4,534.2 L367.0,533.1 L367.6,532.5 L368.2,532.2 L368.8,531.3 L369.4,530.6 L370.0,530.1 L370.6,529.7 L371.2,529.2 L371.8,528.5 L372.4,527.9 L373.0,527.0 L373.6,526.1 L374.2,525.4 L374.8,524.5 L375.4,523.4 L376.0,521.8 L376.6,520.4 L377.2,519.4 L377.8,518.3 L378.4,517.4 L379.0,516.5 L379.6,515.0 L380.2,513.3 L380.8,511.7 L381.4,510.3 L382.0,508.6 L382.6,506.8 L383.2,505.1 L383.8,503.2 L384.4,501.4 L385.0,499.7 L385.6,498.3 L386.2,497.0 L386.8,495.9 L387.4,495.5 L388.0,496.1 L388.6,497.3 L389.2,498.5 L389.8,499.8 L390.4,501.5 L391.0,503.0 L391.6,504.1 L392.2,505.4 L392.8,506.7 L393.4,507.8 L394.0,508.4 L394.6,508.6 L395.2,508.9 L395.8,509.5 L396.4,510.3 L397.0,510.7 L397.6,510.7 L398.2,512.0 L398.8,514.1 L399.4,515.3 L400.0,516.6 L400.6,518.2 L401.2,520.2 L401.8,523.0 L402.4,525.1 L403.0,526.9 L403.6,529.0 L404.2,530.7 L404.8,532.2 L405.4,534.1 L406.0,535.6 L406.6,536.7 L407.2,537.7 L407.8,538.5 L408.4,539.7 L409.0,541.4 L409.6,542.6 L410.2,543.2 L410.8,543.8 L411.4,544.3 L412.0,544.9 L412.6,545.8 L413.2,546.7 L413.8,547.2 L414.4,547.6 L415.0,548.0 L415.6,548.5 L416.2,549.4 L416.8,549.6 L417.4,549.8 L418.0,550.2 L418.6,550.6 L419.2,551.0 L419.8,551.4 L420.4,552.0 L421.0,552.2 L421.6,552.4 L422.2,553.1 L422.8,553.3 L423.4,553.3 L424.0,553.8 L424.6,554.5 L425.2,554.8 L425.8,554.7 L426.4,554.9 L427.0,555.2 L427.6,555.4 L428.2,555.5 L428.8,555.7 L429.4,555.8 L430.0,555.5 L430.6,555.5 L431.2,556.1 L431.8,556.5 L432.4,556.8 L433.0,557.1 L433.6,557.3 L434.2,557.5 L434.8,557.6 L435.4,557.7 L436.0,558.0 L436.6,558.1 L437.2,558.0 L437.8,558.0 L438.4,557.9 L439.0,558.0 L439.6,558.5 L440.2,558.7 L440.8,558.7 L441.4,559.2 L442.0,559.8 L442.6,559.8 L443.2,559.5 L443.8,559.5 L444.4,559.6 L445.0,559.7 L445.6,559.8 L446.2,559.8 L446.8,559.9 L447.4,559.7 L448.0,559.7 L448.6,559.8 L449.2,560.1 L449.8,560.3 L450.4,560.3 L451.0,560.4 L451.6,560.4 L452.2,560.0 L452.8,560.0 L453.4,560.3 L454.0,560.2 L454.6,560.2 L455.2,560.5 L455.8,560.4 L456.4,560.4 L457.0,560.7 L457.6,560.4 L458.2,560.2 L458.8,560.4 L459.4,560.6 L460.0,560.7 L460.6,560.5 L461.2,560.5 L461.8,560.5 L462.4,560.6 L463.0,560.9 L463.6,560.9 L464.2,560.6 L464.8,560.5 L465.4,560.6 L466.0,560.7 L466.6,560.8 L467.2,560.7 L467.8,559.9 L468.4,559.8 L469.0,560.1 L469.6,560.2 L470.2,560.4 L470.8,560.6 L471.4,560.8 L472.0,561.1 L472.6,561.2 L473.2,561.3 L473.8,561.2 L474.4,561.0 L475.0,561.0 L475.6,560.7 L476.2,560.2 L476.8,559.8 L477.4,559.9 L478.0,559.9 L478.6,559.6 L479.2,559.7 L479.8,559.9 L480.4,560.0 L481.0,559.8 L481.6,559.4 L482.2,559.0 L482.8,558.7 L483.4,558.9 L484.0,558.8 L484.6,558.3 L485.2,558.4 L485.8,558.3 L486.4,557.7 L487.0,557.2 L487.6,557.2 L488.2,557.1 L488.8,556.4 L489.4,555.8 L490.0,555.8 L490.6,555.7 L491.2,555.2 L491.8,554.7 L492.4,554.2 L493.0,554.1 L493.6,554.1 L494.2,554.5 L494.8,555.0 L495.4,554.7 L496.0,554.6 L496.6,554.9 L497.2,555.1 L497.8,555.6 L498.4,556.1 L499.0,556.1 L499.6,556.2 L500.2,556.5 L500.8,556.9 L501.4,557.4 L502.0,558.0 L502.6,558.1 L503.2,557.6 L503.8,557.8 L504.4,558.6 L505.0,558.9 L505.6,558.6 L506.2,558.4 L506.8,558.3 L507.4,558.5 L508.0,558.9 L508.6,558.5 L509.2,557.9 L509.8,557.6 L510.4,557.7 L511.0,558.3 L511.6,558.9 L512.2,559.2 L512.8,559.0 L513.4,558.3 L514.0,558.3 L514.6,558.5 L515.2,558.3 L515.8,558.0 L516.4,558.1 L517.0,558.2 L517.6,558.2 L518.2,557.8 L518.8,557.4 L519.4,557.2 L520.0,557.1 L520.6,556.9 L521.2,557.0 L521.8,557.2 L522.4,557.3 L523.0,557.4 L523.6,557.2 L524.2,556.7 L524.8,556.2 L525.4,556.4 L526.0,556.3 L526.6,555.6 L527.2,555.2 L527.8,555.1 L528.4,555.0 L529.0,555.0 L529.6,554.9 L530.2,554.8 L530.8,554.5 L531.4,554.3 L532.0,554.1 L532.6,554.0 L533.2,554.1 L533.8,554.0 L534.4,553.7 L535.0,553.4 L535.6,553.3 L536.2,553.1 L536.8,552.4 L537.4,552.0 L538.0,552.2 L538.6,552.2 L539.2,551.8 L539.8,551.4 L540.4,551.1 L541.0,550.7 L541.6,550.2 L542.2,550.0 L542.8,549.8 L543.4,549.2 L544.0,549.0 L544.6,549.2 L545.2,548.8 L545.8,547.9 L546.4,547.1 L547.0,546.2 L547.6,546.0 L548.2,546.3 L548.8,546.0 L549.4,545.0 L550.0,544.8 L550.6,545.1 L551.2,544.6 L551.8,543.9 L552.4,543.4 L553.0,542.6 L553.6,541.9 L554.2,541.6 L554.8,540.9 L555.4,540.1 L556.0,539.5 L556.6,538.4 L557.2,538.1 L557.8,538.1 L558.4,537.1 L559.0,535.9 L559.6,534.9 L560.2,534.0 L560.8,533.2 L561.4,532.5 L562.0,532.1 L562.6,531.5 L563.2,530.6 L563.8,529.4 L564.4,528.1 L565.0,527.2 L565.6,526.2 L566.2,525.0 L566.8,523.4 L567.4,522.2 L568.0,521.4 L568.6,520.0 L569.2,518.3 L569.8,516.7 L570.4,515.4 L571.0,514.2 L571.6,512.7 L572.2,510.8 L572.8,509.2 L573.4,507.5 L574.0,505.8 L574.6,504.2 L575.2,502.3 L575.8,499.9 L576.4,497.4 L577.0,495.4 L577.6,493.6 L578.2,491.5 L578.8,489.4 L579.4,487.4 L580.0,485.0 L580.6,482.0 L581.2,479.3 L581.8,476.9 L582.4,474.1 L583.0,470.7 L583.6,467.2 L584.2,463.6 L584.8,459.9 L585.4,455.6 L586.0,451.0 L586.6,446.0 L587.2,440.6 L587.8,434.4 L588.4,428.8 L589.0,423.9 L589.6,419.2 L590.2,415.4 L590.8,413.8 L591.4,414.2 L592.0,416.2 L592.6,420.1 L593.2,425.2 L593.8,430.8 L594.4,436.2 L595.0,441.1 L595.6,445.9 L596.2,450.6 L596.8,455.0 L597.4,459.4 L598.0,463.2 L598.6,466.4 L599.2,469.5 L599.8,472.5 L600.4,475.4 L601.0,477.9 L601.6,480.5 L602.2,483.1 L602.8,484.9 L603.4,486.7 L604.0,489.3 L604.6,491.4 L605.2,493.5 L605.8,495.9 L606.4,497.2 L607.0,498.3 L607.6,500.1 L608.2,502.0 L608.8,503.7 L609.4,505.5 L610.0,506.8 L610.6,507.7 L611.2,509.1 L611.8,510.5 L612.4,511.5 L613.0,512.7 L613.6,514.1 L614.2,514.9 L614.8,515.5 L615.4,516.5 L616.0,517.6 L616.6,518.5 L617.2,519.5 L617.8,520.4 L618.4,520.8 L619.0,521.3 L619.6,522.0 L620.2,522.3 L620.8,523.1 L621.4,524.0 L622.0,524.3 L622.6,524.9 L623.2,525.8 L623.8,526.3 L624.4,526.5 L625.0,526.7 L625.6,526.9 L626.2,527.2 L626.8,527.8 L627.4,528.5 L628.0,528.3 L628.6,528.0 L629.2,528.1 L629.8,528.0 L630.4,527.7 L631.0,528.0 L631.6,528.3 L632.2,527.9 L632.8,527.9 L633.4,528.4 L634.0,528.3 L634.6,527.8 L635.2,527.7 L635.8,527.6 L636.4,527.5 L637.0,527.1 L637.6,526.5 L638.2,526.3 L638.8,525.8 L639.4,525.4 L640.0,525.2 L640.6,524.7 L641.2,524.0 L641.8,522.9 L642.4,521.8 L643.0,521.2 L643.6,520.9 L644.2,520.5 L644.8,519.7 L645.4,518.5 L646.0,517.2 L646.6,516.4 L647.2,516.4 L647.8,516.4 L648.4,516.7 L649.0,518.0 L649.6,519.5 L650.2,520.3 L650.8,520.6 L651.4,521.3 L652.0,522.0 L652.6,522.5 L653.2,523.2 L653.8,524.1 L654.4,525.2 L655.0,526.2 L655.6,526.9 L656.2,527.1 L656.8,527.5 L657.4,528.6 L658.0,529.5 L658.6,530.4 L659.2,531.0 L659.8,531.4 L660.4,532.0 L661.0,532.5 L661.6,533.3 L662.2,534.1 L662.8,534.7 L663.4,535.0 L664.0,535.4 L664.6,536.1 L665.2,536.8 L665.8,537.1 L666.4,538.1 L667.0,539.3 L667.6,539.5 L668.2,539.4 L668.8,540.0 L669.4,540.6 L670.0,540.5 L670.6,541.2 L671.2,542.1 L671.8,542.5 L672.4,542.8 L673.0,543.0 L673.6,543.5 L674.2,544.0 L674.8,544.4 L675.4,544.7 L676.0,545.2 L676.6,545.6 L677.2,545.6 L677.8,545.7 L678.4,546.0 L679.0,546.1 L679.6,545.9 L680.2,546.0 L680.8,546.5 L681.4,547.2 L682.0,547.4 L682.6,548.0 L683.2,548.9 L683.8,548.9 L684.4,548.4 L685.0,548.5 L685.6,548.9 L686.2,549.0 L686.8,549.3 L687.4,549.6 L688.0,549.6 L688.6,549.5 L689.2,549.4 L689.8,549.2 L690.4,549.5 L691.0,550.1 L691.6,549.9 L692.2,549.6 L692.8,550.0 L693.4,550.3 L694.0,550.1 L694.6,550.0 L695.2,550.0 L695.8,550.2 L696.4,550.6 L697.0,550.8 L697.6,550.9 L698.2,550.6 L698.8,550.2 L699.4,550.6 L700.0,551.0 L700.6,550.5 L701.2,550.3 L701.8,550.2 L702.4,550.2 L703.0,550.5 L703.6,550.9 L704.2,550.9 L704.8,550.8 L705.4,550.5 L706.0,550.1 L706.6,550.4 L707.2,550.5 L707.8,550.2 L708.4,550.0 L709.0,550.0 L709.6,550.1 L710.2,549.7 L710.8,549.3 L711.4,549.5 L712.0,549.5 L712.6,549.7 L713.2,549.9 L713.8,549.6 L714.4,549.6 L715.0,549.6 L715.6,549.0 L716.2,549.0 L716.8,549.4 L717.4,549.6 L718.0,549.3 L718.6,548.6 L719.2,548.3 L719.8,548.0 L720.4,547.6 L721.0,547.2 L721.6,547.1 L722.2,547.3 L722.8,547.2 L723.4,546.8 L724.0,546.7 L724.6,546.3 L725.2,545.5 L725.8,545.3 L726.4,545.8 L727.0,545.9 L727.6,545.2 L728.2,544.7 L728.8,544.4 L729.4,544.4 L730.0,544.3 L730.6,544.0 L731.2,543.4 L731.8,542.6 L732.4,542.3 L733.0,542.2 L733.6,541.8 L734.2,541.7 L734.8,541.5 L735.4,540.9 L736.0,540.6 L736.6,540.4 L737.2,539.8 L737.8,539.2 L738.4,538.8 L739.0,538.8 L739.6,538.6 L740.2,538.0 L740.8,537.0 L741.4,536.2 L742.0,535.7 L742.6,535.2 L743.2,534.7 L743.8,534.4 L744.4,534.0 L745.0,533.3 L745.6,532.5 L746.2,531.9 L746.8,531.3 L747.4,530.3 L748.0,529.8 L748.6,529.4 L749.2,528.5 L749.8,527.9 L750.4,527.5 L751.0,526.9 L751.6,525.6 L752.2,524.2 L752.8,523.5 L753.4,523.0 L754.0,522.3 L754.6,521.6 L755.2,521.0 L755.8,519.8 L756.4,518.2 L757.0,516.9 L757.6,516.2 L758.2,515.9 L758.8,515.0 L759.4,513.6 L760.0,512.4 L760.6,511.7 L761.2,511.1 L761.8,510.1 L762.4,509.1 L763.0,508.6 L763.6,508.2 L764.2,507.1 L764.8,506.0 L765.4,505.8 L766.0,505.6 L766.6,505.5 L767.2,505.3 L767.8,505.3 L768.4,505.7 L769.0,506.1 L769.6,506.6 L770.2,507.8 L770.8,508.3 L771.4,508.1 L772.0,509.0 L772.6,510.4 L773.2,511.6 L773.8,512.1 L774.4,512.1 L775.0,512.7 L775.6,514.0 L776.2,515.0 L776.8,515.7 L777.4,516.7 L778.0,517.8 L778.6,518.4 L779.2,518.8 L779.8,519.7 L780.4,520.5 L781.0,521.4 L781.6,522.2 L782.2,523.0 L782.8,523.6 L783.4,524.2 L784.0,525.2 L784.6,525.8 L785.2,525.8 L785.8,526.3 L786.4,526.8 L787.0,527.2 L787.6,528.0 L788.2,528.5 L788.8,528.6 L789.4,529.2 L790.0,529.8 L790.6,529.9 L791.2,530.3 L791.8,530.8 L792.4,530.9 L793.0,531.3 L793.6,531.9 L794.2,531.7 L794.8,531.3 L795.4,531.6 L796.0,532.0 L796.6,532.2 L797.2,532.5 L797.8,532.6 L798.4,532.5 L799.0,532.5 L799.6,532.7 L800.2,532.4 L800.8,532.0 L801.4,532.2 L802.0,532.0 L802.6,531.4 L803.2,530.9 L803.8,530.5 L804.4,530.4 L805.0,530.6 L805.6,530.4 L806.2,529.7 L806.8,529.2 L807.4,528.6 L808.0,527.9 L808.6,527.2 L809.2,526.8 L809.8,526.5 L810.4,525.7 L811.0,524.8 L811.6,524.4 L812.2,524.2 L812.8,523.7 L813.4,523.1 L814.0,523.3 L814.6,523.8 L815.2,523.8 L815.8,524.3 L816.4,525.3 L817.0,526.2 L817.6,527.2 L818.2,528.1 L818.8,529.3 L819.4,530.6 L820.0,531.4 L820.6,532.1 L821.2,533.1 L821.8,534.2 L822.4,535.4 L823.0,536.5 L823.6,537.3 L824.2,537.4 L824.8,537.8 L825.4,538.5 L826.0,539.6 L826.6,540.5 L827.2,540.8 L827.8,541.2 L828.4,541.6 L829.0,542.3 L829.6,543.6 L830.2,544.4 L830.8,544.6 L831.4,545.1 L832.0,545.3 L832.6,545.4 L833.2,546.2 L833.8,546.9 L834.4,547.1 L835.0,547.5 L835.6,548.0 L836.2,548.2 L836.8,548.5 L837.4,548.7 L838.0,548.4 L838.6,548.2 L839.2,548.5 L839.8,549.3 L840.4,549.6 L841.0,549.4 L841.6,549.9 L842.2,550.4 L842.8,550.3 L843.4,550.6 L844.0,551.1 L844.6,551.0 L845.2,550.8 L845.8,550.9 L846.4,551.2 L847.0,551.5 L847.6,551.5 L848.2,551.4 L848.8,551.5 L849.4,551.4 L850.0,551.3 L850.6,551.7 L851.2,552.0 L851.8,552.1 L852.4,552.3 L853.0,552.2 L853.6,552.1 L854.2,552.2 L854.8,552.2 L855.4,551.6 L856.0,551.3 L856.6,551.4 L857.2,551.5 L857.8,551.5 L858.4,551.4 L859.0,551.1 L859.6,550.7 L860.2,550.7 L860.8,550.3 L861.4,549.9 L862.0,550.1 L862.6,549.9 L863.2,549.5 L863.8,549.4 L864.4,549.0 L865.0,548.4 L865.6,548.5 L866.2,548.8 L866.8,548.6 L867.4,548.0 L868.0,547.1 L868.6,546.7 L869.2,546.7 L869.8,546.3 L870.4,545.2 L871.0,544.2 L871.6,543.9 L872.2,544.1 L872.8,544.1 L873.4,544.7 L874.0,545.9 L874.6,546.9 L875.2,546.9 L875.8,547.1 L876.4,547.8 L877.0,548.6 L877.6,549.3 L878.2,549.5 L878.8,549.3 L879.4,549.5 L880.0,550.2 L880.6,551.0 L881.2,551.5 L881.8,551.6 L882.4,551.8 L883.0,552.1 L883.6,552.6 L884.2,553.4 L884.8,553.6 L885.4,553.7 L886.0,554.0 L886.6,554.0 L887.2,554.1 L887.8,554.7 L888.4,555.4 L889.0,555.6 L889.6,555.7 L890.2,556.0 L890.8,555.9 L891.4,555.7 L892.0,555.7 L892.6,556.3 L893.2,556.6 L893.8,556.8 L894.4,556.9 L895.0,556.7 L895.6,556.8 L896.2,556.8 L896.8,556.8 L897.4,557.5 L898.0,557.8 L898.6,557.5 L899.2,557.2 L899.8,557.8 L900.4,558.6 L901.0,558.7 L901.6,558.8 L902.2,559.1 L902.8,558.5 L903.4,557.9 L904.0,558.0 L904.6,558.6 L905.2,559.0 L905.8,558.8 L906.4,558.8 L907.0,558.9 L907.6,558.9 L908.2,559.1 L908.8,559.1 L909.4,558.9 L910.0,558.8 L910.6,558.9 L911.2,559.0 L911.8,559.1 L912.4,559.5 L913.0,559.7 L913.6,559.8 L914.2,560.0 L914.8,560.2 L915.4,559.8 L916.0,559.6 L916.6,560.0 L917.2,559.9 L917.8,560.1 L918.4,560.3 L919.0,560.2 L919.6,560.2 L920.2,560.4 L920.8,560.4 L921.4,560.0 L922.0,559.8 L922.6,559.8 L923.2,559.7 L923.8,559.7 L924.4,560.0 L925.0,560.5 L925.6,560.6 L926.2,560.4 L926.8,560.1 L927.4,560.0 L928.0,560.0 L928.6,560.4 L929.2,560.8 L929.8,561.0 L930.4,560.9 L931.0,560.3 L931.6,560.0 L932.2,560.8 L932.8,561.4 L933.4,561.4 L934.0,561.4 L934.6,561.7 L935.2,561.9 L935.8,561.6 L936.4,561.5 L937.0,561.5 L937.6,561.3 L938.2,561.0 L938.8,560.7 L939.4,560.7 L940.0,561.0 L940.6,560.9 L941.2,560.6 L941.8,560.5 L942.4,560.9 L943.0,561.4 L943.6,561.3 L944.2,561.0 L944.8,560.7 L945.4,560.9 L946.0,561.3 L946.6,561.3 L947.2,561.5 L947.8,562.1 L948.4,562.2 L949.0,561.9 L949.6,561.6 L950.2,561.4 L950.8,561.6 L951.4,561.7 L952.0,561.3 L952.6,560.9 L953.2,560.6 L953.8,560.8 L954.4,561.4 L955.0,561.6 L955.6,561.5 L956.2,561.3 L956.8,561.1 L957.4,561.1 L958.0,561.4 L958.6,561.9 L959.2,562.1 L959.8,561.8 L960.4,561.3 L961.0,561.2 L961.6,561.4 L962.2,561.2 L962.8,561.2 L963.4,561.7 L964.0,561.7 L964.6,561.3 L965.2,561.2 L965.8,561.3 L966.4,561.6 L967.0,561.5 L967.6,561.6 L968.2,562.1 L968.8,562.3 L969.4,562.1" stroke="#3E5588" stroke-width="5.6"/>
<path d="M94.6,340.3 L95.2,340.4 L95.8,340.7 L96.4,340.7 L97.0,340.4 L97.6,340.4 L98.2,340.1 L98.8,339.6 L99.4,339.8 L100.0,340.5 L100.6,340.8 L101.2,340.5 L101.8,340.0 L102.4,339.9 L103.0,340.1 L103.6,339.9 L104.2,339.6 L104.8,339.8 L105.4,339.9 L106.0,340.0 L106.6,340.1 L107.2,340.2 L107.8,340.2 L108.4,339.9 L109.0,339.3 L109.6,339.3 L110.2,339.7 L110.8,339.5 L111.4,338.7 L112.0,338.7 L112.6,339.6 L113.2,340.1 L113.8,339.7 L114.4,339.2 L115.0,338.7 L115.6,338.1 L116.2,338.4 L116.8,339.1 L117.4,338.9 L118.0,338.4 L118.6,338.7 L119.2,339.0 L119.8,338.8 L120.4,338.4 L121.0,338.1 L121.6,337.9 L122.2,338.1 L122.8,338.1 L123.4,337.8 L124.0,337.7 L124.6,337.7 L125.2,337.9 L125.8,337.5 L126.4,336.8 L127.0,337.1 L127.6,337.4 L128.2,336.9 L128.8,336.7 L129.4,336.5 L130.0,336.3 L130.6,336.5 L131.2,336.9 L131.8,336.9 L132.4,336.8 L133.0,336.7 L133.6,336.4 L134.2,336.1 L134.8,336.3 L135.4,336.5 L136.0,336.3 L136.6,335.6 L137.2,335.0 L137.8,334.9 L138.4,335.1 L139.0,334.9 L139.6,334.5 L140.2,334.7 L140.8,334.9 L141.4,334.7 L142.0,334.8 L142.6,335.2 L143.2,334.8 L143.8,333.9 L144.4,334.0 L145.0,334.4 L145.6,334.4 L146.2,334.1 L146.8,333.9 L147.4,333.7 L148.0,333.5 L148.6,333.4 L149.2,333.3 L149.8,332.7 L150.4,333.0 L151.0,333.5 L151.6,333.1 L152.2,333.0 L152.8,333.6 L153.4,333.6 L154.0,332.9 L154.6,332.6 L155.2,332.5 L155.8,332.4 L156.4,332.2 L157.0,332.1 L157.6,332.1 L158.2,331.7 L158.8,331.1 L159.4,331.1 L160.0,331.2 L160.6,330.7 L161.2,330.5 L161.8,331.1 L162.4,331.0 L163.0,330.4 L163.6,330.2 L164.2,330.3 L164.8,330.2 L165.4,329.6 L166.0,329.2 L166.6,328.9 L167.2,328.5 L167.8,327.8 L168.4,327.3 L169.0,327.4 L169.6,327.4 L170.2,327.0 L170.8,326.6 L171.4,326.4 L172.0,326.1 L172.6,325.6 L173.2,325.1 L173.8,324.6 L174.4,323.9 L175.0,323.3 L175.6,322.6 L176.2,321.4 L176.8,320.9 L177.4,320.7 L178.0,319.6 L178.6,318.8 L179.2,318.5 L179.8,317.8 L180.4,316.5 L181.0,315.3 L181.6,314.1 L182.2,313.2 L182.8,312.5 L183.4,311.2 L184.0,309.8 L184.6,308.4 L185.2,306.9 L185.8,305.3 L186.4,303.4 L187.0,301.6 L187.6,299.8 L188.2,297.9 L188.8,296.3 L189.4,294.6 L190.0,292.4 L190.6,289.6 L191.2,286.3 L191.8,283.2 L192.4,280.2 L193.0,276.8 L193.6,273.4 L194.2,270.3 L194.8,267.4 L195.4,264.0 L196.0,260.2 L196.6,256.2 L197.2,251.6 L197.8,246.8 L198.4,242.4 L199.0,238.1 L199.6,233.4 L200.2,228.0 L200.8,222.8 L201.4,218.0 L202.0,213.3 L202.6,208.1 L203.2,202.6 L203.8,197.5 L204.4,192.6 L205.0,187.7 L205.6,183.4 L206.2,179.4 L206.8,175.7 L207.4,172.7 L208.0,170.4 L208.6,168.5 L209.2,166.5 L209.8,165.0 L210.4,164.2 L211.0,164.4 L211.6,166.2 L212.2,168.0 L212.8,169.5 L213.4,172.3 L214.0,175.8 L214.6,179.0 L215.2,182.6 L215.8,187.4 L216.4,192.3 L217.0,196.9 L217.6,201.8 L218.2,207.1 L218.8,212.2 L219.4,216.9 L220.0,221.8 L220.6,226.6 L221.2,231.3 L221.8,235.9 L222.4,240.6 L223.0,245.3 L223.6,249.9 L224.2,253.8 L224.8,257.6 L225.4,261.9 L226.0,265.7 L226.6,269.1 L227.2,272.3 L227.8,275.4 L228.4,278.1 L229.0,280.7 L229.6,283.6 L230.2,286.3 L230.8,288.8 L231.4,290.9 L232.0,292.7 L232.6,294.8 L233.2,296.7 L233.8,298.6 L234.4,300.5 L235.0,301.9 L235.6,303.3 L236.2,304.9 L236.8,306.3 L237.4,307.7 L238.0,308.8 L238.6,309.3 L239.2,310.0 L239.8,311.3 L240.4,312.5 L241.0,313.0 L241.6,313.2 L242.2,313.6 L242.8,314.4 L243.4,315.4 L244.0,316.3 L244.6,317.0 L245.2,317.5 L245.8,318.1 L246.4,318.6 L247.0,318.9 L247.6,319.0 L248.2,319.3 L248.8,319.8 L249.4,320.3 L250.0,320.7 L250.6,320.8 L251.2,320.7 L251.8,321.1 L252.4,321.6 L253.0,321.5 L253.6,321.3 L254.2,321.3 L254.8,321.4 L255.4,321.8 L256.0,322.2 L256.6,322.1 L257.2,321.8 L257.8,321.5 L258.4,321.8 L259.0,322.3 L259.6,322.1 L260.2,321.7 L260.8,321.7 L261.4,321.6 L262.0,321.6 L262.6,321.7 L263.2,321.8 L263.8,321.4 L264.4,321.2 L265.0,321.2 L265.6,320.9 L266.2,320.6 L266.8,320.3 L267.4,319.7 L268.0,319.1 L268.6,318.9 L269.2,318.8 L269.8,318.6 L270.4,318.7 L271.0,318.5 L271.6,317.9 L272.2,317.6 L272.8,317.2 L273.4,316.4 L274.0,316.0 L274.6,315.8 L275.2,315.4 L275.8,314.6 L276.4,313.9 L277.0,313.2 L277.6,312.4 L278.2,311.9 L278.8,311.6 L279.4,310.8 L280.0,309.3 L280.6,308.2 L281.2,307.5 L281.8,306.4 L282.4,305.4 L283.0,304.3 L283.6,303.1 L284.2,301.9 L284.8,300.4 L285.4,298.7 L286.0,297.0 L286.6,295.4 L287.2,294.3 L287.8,292.5 L288.4,290.2 L289.0,288.1 L289.6,285.8 L290.2,283.4 L290.8,280.9 L291.4,278.0 L292.0,275.0 L292.6,271.8 L293.2,268.3 L293.8,264.4 L294.4,260.3 L295.0,256.4 L295.6,252.8 L296.2,248.2 L296.8,242.8 L297.4,237.9 L298.0,232.3 L298.6,226.0 L299.2,220.2 L299.8,214.5 L300.4,208.4 L301.0,201.7 L301.6,194.5 L302.2,187.1 L302.8,179.5 L303.4,171.9 L304.0,164.8 L304.6,157.6 L305.2,150.4 L305.8,144.2 L306.4,138.9 L307.0,133.8 L307.6,128.9 L308.2,124.8 L308.8,122.2 L309.4,121.0 L310.0,121.0 L310.6,121.6 L311.2,123.3 L311.8,126.5 L312.4,131.2 L313.0,136.4 L313.6,141.8 L314.2,148.1 L314.8,155.2 L315.4,162.5 L316.0,169.4 L316.6,176.8 L317.2,184.4 L317.8,191.9 L318.4,199.2 L319.0,206.0 L319.6,212.7 L320.2,219.3 L320.8,225.3 L321.4,230.9 L322.0,236.1 L322.6,241.1 L323.2,246.1 L323.8,250.7 L324.4,255.0 L325.0,259.1 L325.6,262.8 L326.2,266.5 L326.8,270.3 L327.4,273.7 L328.0,276.8 L328.6,279.9 L329.2,282.9 L329.8,285.0 L330.4,286.6 L331.0,288.5 L331.6,290.7 L332.2,292.6 L332.8,294.1 L333.4,295.7 L334.0,297.5 L334.6,299.6 L335.2,301.8 L335.8,303.0 L336.4,303.6 L337.0,304.4 L337.6,305.3 L338.2,306.3 L338.8,307.7 L339.4,308.8 L340.0,309.6 L340.6,310.5 L341.2,311.4 L341.8,312.1 L342.4,312.7 L343.0,313.3 L343.6,313.8 L344.2,314.4 L344.8,314.8 L345.4,314.9 L346.0,315.3 L346.6,315.9 L347.2,316.4 L347.8,316.7 L348.4,316.7 L349.0,316.9 L349.6,317.5 L350.2,317.8 L350.8,318.0 L351.4,318.5 L352.0,318.9 L352.6,318.9 L353.2,318.8 L353.8,318.8 L354.4,319.1 L355.0,318.9 L355.6,318.8 L356.2,319.0 L356.8,318.9 L357.4,318.5 L358.0,318.2 L358.6,318.1 L359.2,318.3 L359.8,318.2 L360.4,317.8 L361.0,317.6 L361.6,317.4 L362.2,316.8 L362.8,316.3 L363.4,315.7 L364.0,315.1 L364.6,315.0 L365.2,314.7 L365.8,314.1 L366.4,313.6 L367.0,312.9 L367.6,312.1 L368.2,311.5 L368.8,311.0 L369.4,310.3 L370.0,308.9 L370.6,307.5 L371.2,306.8 L371.8,306.1 L372.4,305.3 L373.0,303.9 L373.6,302.7 L374.2,302.0 L374.8,300.6 L375.4,298.8 L376.0,297.1 L376.6,295.6 L377.2,294.7 L377.8,293.6 L378.4,291.6 L379.0,290.0 L379.6,288.7 L380.2,287.5 L380.8,286.6 L381.4,285.3 L382.0,284.2 L382.6,283.7 L383.2,283.3 L383.8,282.4 L384.4,281.3 L385.0,281.0 L385.6,281.2 L386.2,281.3 L386.8,281.7 L387.4,282.6 L388.0,283.7 L388.6,284.4 L389.2,284.8 L389.8,286.3 L390.4,287.8 L391.0,288.8 L391.6,290.0 L392.2,291.4 L392.8,293.2 L393.4,295.3 L394.0,297.2 L394.6,298.7 L395.2,299.7 L395.8,301.1 L396.4,302.5 L397.0,303.4 L397.6,305.0 L398.2,307.4 L398.8,309.0 L399.4,309.8 L400.0,310.7 L400.6,311.9 L401.2,313.1 L401.8,314.3 L402.4,315.3 L403.0,316.5 L403.6,317.6 L404.2,318.5 L404.8,319.2 L405.4,319.8 L406.0,321.0 L406.6,321.9 L407.2,322.6 L407.8,323.5 L408.4,324.1 L409.0,324.5 L409.6,325.0 L410.2,325.5 L410.8,326.1 L411.4,327.0 L412.0,327.6 L412.6,327.8 L413.2,328.1 L413.8,328.7 L414.4,329.5 L415.0,329.9 L415.6,330.0 L416.2,330.3 L416.8,330.8 L417.4,331.4 L418.0,331.7 L418.6,331.3 L419.2,331.2 L419.8,331.7 L420.4,332.3 L421.0,333.0 L421.6,333.1 L422.2,333.2 L422.8,333.6 L423.4,333.8 L424.0,334.0 L424.6,334.3 L425.2,334.7 L425.8,335.0 L426.4,335.4 L427.0,335.1 L427.6,334.8 L428.2,335.1 L428.8,335.3 L429.4,335.9 L430.0,336.7 L430.6,336.5 L431.2,335.9 L431.8,336.0 L432.4,336.6 L433.0,336.9 L433.6,336.9 L434.2,337.2 L434.8,337.3 L435.4,337.1 L436.0,337.4 L436.6,337.6 L437.2,337.1 L437.8,337.2 L438.4,337.9 L439.0,338.0 L439.6,337.5 L440.2,337.4 L440.8,337.7 L441.4,338.1 L442.0,338.3 L442.6,338.7 L443.2,338.8 L443.8,338.7 L444.4,338.7 L445.0,338.9 L445.6,339.0 L446.2,338.9 L446.8,339.0 L447.4,339.1 L448.0,339.2 L448.6,339.3 L449.2,339.1 L449.8,338.9 L450.4,339.4 L451.0,339.9 L451.6,339.7 L452.2,339.1 L452.8,339.2 L453.4,339.3 L454.0,339.3 L454.6,339.3 L455.2,339.4 L455.8,339.4 L456.4,339.5 L457.0,339.5 L457.6,339.2 L458.2,339.1 L458.8,339.1 L459.4,339.4 L460.0,339.7 L460.6,339.6 L461.2,339.7 L461.8,340.0 L462.4,340.2 L463.0,340.2 L463.6,340.3 L464.2,340.2 L464.8,340.2 L465.4,340.1 L466.0,339.8 L466.6,340.2 L467.2,340.6 L467.8,340.3 L468.4,340.3 L469.0,340.7 L469.6,340.6 L470.2,340.2 L470.8,339.7 L471.4,339.8 L472.0,340.1 L472.6,340.4 L473.2,340.6 L473.8,340.3 L474.4,339.7 L475.0,339.5 L475.6,340.2 L476.2,340.7 L476.8,340.4 L477.4,340.1 L478.0,340.4 L478.6,340.6 L479.2,340.8 L479.8,340.7 L480.4,340.0 L481.0,339.7 L481.6,340.1 L482.2,340.3 L482.8,340.0 L483.4,339.7 L484.0,339.4 L484.6,339.1 L485.2,338.9 L485.8,338.9 L486.4,339.3 L487.0,339.6 L487.6,339.4 L488.2,338.9 L488.8,338.4 L489.4,338.1 L490.0,338.2 L490.6,339.1 L491.2,339.3 L491.8,338.5 L492.4,338.3 L493.0,338.5 L493.6,338.3 L494.2,338.3 L494.8,338.2 L495.4,338.2 L496.0,338.4 L496.6,338.2 L497.2,338.0 L497.8,338.4 L498.4,338.4 L499.0,338.2 L499.6,338.3 L500.2,338.5 L500.8,338.5 L501.4,338.7 L502.0,339.0 L502.6,339.0 L503.2,338.8 L503.8,338.6 L504.4,338.8 L505.0,339.3 L505.6,339.4 L506.2,339.2 L506.8,339.0 L507.4,338.7 L508.0,338.2 L508.6,338.2 L509.2,338.4 L509.8,338.6 L510.4,338.4 L511.0,338.5 L511.6,338.8 L512.2,338.9 L512.8,338.9 L513.4,338.6 L514.0,338.0 L514.6,337.8 L515.2,338.2 L515.8,338.3 L516.4,338.0 L517.0,337.6 L517.6,337.3 L518.2,337.2 L518.8,337.3 L519.4,337.1 L520.0,337.3 L520.6,337.7 L521.2,337.3 L521.8,336.8 L522.4,336.7 L523.0,336.7 L523.6,336.8 L524.2,337.1 L524.8,336.6 L525.4,335.9 L526.0,335.9 L526.6,336.3 L527.2,336.1 L527.8,335.4 L528.4,335.1 L529.0,335.2 L529.6,335.5 L530.2,335.5 L530.8,335.3 L531.4,335.4 L532.0,335.2 L532.6,334.5 L533.2,334.5 L533.8,334.8 L534.4,334.5 L535.0,334.3 L535.6,334.2 L536.2,333.7 L536.8,333.2 L537.4,333.0 L538.0,333.2 L538.6,333.0 L539.2,332.4 L539.8,332.1 L540.4,332.5 L541.0,332.5 L541.6,332.1 L542.2,331.7 L542.8,331.0 L543.4,330.7 L544.0,330.9 L544.6,330.9 L545.2,330.0 L545.8,329.4 L546.4,329.6 L547.0,329.8 L547.6,329.7 L548.2,329.1 L548.8,328.9 L549.4,328.7 L550.0,328.0 L550.6,327.7 L551.2,327.5 L551.8,326.5 L552.4,326.0 L553.0,326.1 L553.6,325.4 L554.2,324.5 L554.8,324.4 L555.4,324.3 L556.0,323.5 L556.6,322.8 L557.2,322.1 L557.8,321.4 L558.4,321.1 L559.0,320.6 L559.6,319.6 L560.2,318.5 L560.8,317.5 L561.4,316.7 L562.0,315.8 L562.6,314.5 L563.2,313.6 L563.8,312.6 L564.4,311.1 L565.0,309.7 L565.6,308.5 L566.2,306.9 L566.8,305.3 L567.4,304.0 L568.0,302.7 L568.6,300.8 L569.2,299.0 L569.8,297.3 L570.4,295.1 L571.0,293.1 L571.6,290.7 L572.2,287.9 L572.8,285.4 L573.4,283.2 L574.0,280.8 L574.6,277.9 L575.2,274.4 L575.8,270.8 L576.4,267.5 L577.0,264.3 L577.6,260.8 L578.2,257.4 L578.8,253.9 L579.4,250.2 L580.0,246.4 L580.6,242.2 L581.2,238.0 L581.8,233.8 L582.4,229.8 L583.0,225.8 L583.6,221.7 L584.2,217.3 L584.8,212.4 L585.4,208.2 L586.0,204.9 L586.6,201.4 L587.2,197.9 L587.8,194.9 L588.4,192.1 L589.0,189.5 L589.6,187.4 L590.2,185.4 L590.8,184.3 L591.4,183.9 L592.0,184.0 L592.6,184.7 L593.2,185.5 L593.8,186.5 L594.4,188.7 L595.0,191.3 L595.6,193.6 L596.2,196.6 L596.8,199.8 L597.4,203.4 L598.0,207.9 L598.6,211.9 L599.2,215.4 L599.8,219.5 L600.4,224.0 L601.0,228.0 L601.6,231.8 L602.2,235.7 L602.8,239.4 L603.4,243.1 L604.0,246.9 L604.6,250.4 L605.2,253.9 L605.8,257.1 L606.4,260.1 L607.0,263.2 L607.6,266.5 L608.2,269.5 L608.8,271.9 L609.4,274.2 L610.0,276.6 L610.6,278.7 L611.2,280.6 L611.8,283.0 L612.4,285.3 L613.0,287.2 L613.6,288.9 L614.2,290.5 L614.8,291.8 L615.4,292.8 L616.0,294.0 L616.6,295.1 L617.2,296.2 L617.8,297.2 L618.4,297.7 L619.0,298.2 L619.6,299.0 L620.2,299.8 L620.8,300.3 L621.4,300.6 L622.0,300.7 L622.6,301.1 L623.2,301.9 L623.8,302.4 L624.4,302.4 L625.0,302.6 L625.6,303.0 L626.2,302.8 L626.8,302.5 L627.4,302.4 L628.0,302.2 L628.6,302.0 L629.2,301.8 L629.8,301.4 L630.4,301.0 L631.0,300.5 L631.6,300.4 L632.2,300.0 L632.8,299.2 L633.4,298.4 L634.0,298.1 L634.6,297.9 L635.2,297.5 L635.8,296.9 L636.4,296.3 L637.0,295.7 L637.6,295.0 L638.2,294.5 L638.8,294.1 L639.4,293.5 L640.0,293.0 L640.6,292.8 L641.2,292.5 L641.8,292.5 L642.4,292.3 L643.0,291.3 L643.6,290.6 L644.2,290.1 L644.8,290.2 L645.4,290.6 L646.0,290.8 L646.6,290.9 L647.2,290.9 L647.8,290.7 L648.4,290.9 L649.0,291.8 L649.6,292.5 L650.2,293.0 L650.8,293.4 L651.4,293.9 L652.0,294.4 L652.6,295.0 L653.2,295.8 L653.8,296.9 L654.4,297.9 L655.0,298.2 L655.6,298.3 L656.2,299.5 L656.8,300.9 L657.4,301.9 L658.0,302.6 L658.6,303.2 L659.2,304.0 L659.8,304.9 L660.4,306.1 L661.0,307.3 L661.6,308.2 L662.2,308.9 L662.8,310.0 L663.4,311.0 L664.0,311.3 L664.6,311.7 L665.2,312.3 L665.8,312.8 L666.4,313.5 L667.0,314.4 L667.6,315.4 L668.2,316.3 L668.8,316.8 L669.4,317.3 L670.0,317.8 L670.6,318.2 L671.2,318.9 L671.8,319.9 L672.4,320.6 L673.0,321.2 L673.6,321.8 L674.2,321.9 L674.8,321.9 L675.4,322.0 L676.0,322.4 L676.6,322.9 L677.2,323.2 L677.8,323.4 L678.4,323.5 L679.0,324.2 L679.6,325.4 L680.2,325.4 L680.8,325.0 L681.4,325.4 L682.0,325.6 L682.6,325.5 L683.2,326.1 L683.8,326.8 L684.4,327.3 L685.0,327.4 L685.6,327.3 L686.2,327.5 L686.8,328.0 L687.4,328.3 L688.0,328.3 L688.6,328.6 L689.2,328.7 L689.8,328.2 L690.4,328.4 L691.0,329.2 L691.6,329.6 L692.2,329.6 L692.8,329.5 L693.4,329.3 L694.0,329.4 L694.6,329.5 L695.2,329.6 L695.8,329.7 L696.4,330.0 L697.0,330.3 L697.6,330.6 L698.2,330.5 L698.8,330.2 L699.4,330.2 L700.0,330.6 L700.6,330.2 L701.2,329.8 L701.8,330.1 L702.4,330.4 L703.0,330.2 L703.6,330.2 L704.2,330.4 L704.8,330.8 L705.4,330.8 L706.0,330.8 L706.6,330.9 L707.2,330.7 L707.8,330.2 L708.4,329.8 L709.0,330.0 L709.6,330.4 L710.2,330.5 L710.8,330.6 L711.4,330.4 L712.0,329.9 L712.6,329.6 L713.2,330.0 L713.8,330.3 L714.4,329.8 L715.0,329.3 L715.6,329.5 L716.2,329.8 L716.8,329.3 L717.4,328.7 L718.0,328.7 L718.6,328.7 L719.2,328.8 L719.8,329.1 L720.4,329.3 L721.0,328.9 L721.6,328.2 L722.2,327.6 L722.8,327.2 L723.4,327.4 L724.0,327.4 L724.6,327.0 L725.2,326.4 L725.8,326.1 L726.4,325.6 L727.0,325.2 L727.6,324.8 L728.2,324.5 L728.8,324.2 L729.4,324.0 L730.0,323.4 L730.6,322.9 L731.2,322.7 L731.8,322.3 L732.4,321.6 L733.0,320.9 L733.6,320.4 L734.2,319.6 L734.8,318.6 L735.4,318.0 L736.0,317.1 L736.6,316.5 L737.2,316.1 L737.8,315.5 L738.4,314.5 L739.0,313.8 L739.6,313.3 L740.2,312.7 L740.8,311.8 L741.4,310.9 L742.0,309.9 L742.6,308.5 L743.2,307.3 L743.8,306.2 L744.4,305.3 L745.0,304.6 L745.6,303.7 L746.2,302.6 L746.8,301.3 L747.4,300.1 L748.0,299.0 L748.6,297.7 L749.2,296.3 L749.8,295.1 L750.4,294.4 L751.0,293.3 L751.6,291.8 L752.2,290.4 L752.8,288.9 L753.4,288.0 L754.0,287.1 L754.6,286.0 L755.2,285.1 L755.8,284.1 L756.4,283.0 L757.0,281.7 L757.6,280.5 L758.2,279.9 L758.8,279.2 L759.4,278.3 L760.0,277.4 L760.6,276.6 L761.2,276.1 L761.8,275.9 L762.4,275.2 L763.0,274.5 L763.6,274.4 L764.2,274.2 L764.8,274.0 L765.4,273.7 L766.0,273.5 L766.6,274.2 L767.2,275.1 L767.8,274.9 L768.4,274.9 L769.0,276.1 L769.6,277.2 L770.2,277.2 L770.8,277.2 L771.4,277.9 L772.0,279.0 L772.6,280.1 L773.2,281.3 L773.8,281.8 L774.4,282.2 L775.0,283.3 L775.6,284.9 L776.2,286.2 L776.8,286.8 L777.4,287.4 L778.0,288.7 L778.6,289.8 L779.2,290.8 L779.8,292.2 L780.4,293.4 L781.0,294.5 L781.6,295.6 L782.2,296.6 L782.8,297.8 L783.4,298.7 L784.0,299.1 L784.6,299.9 L785.2,301.0 L785.8,301.7 L786.4,302.2 L787.0,303.0 L787.6,303.6 L788.2,303.9 L788.8,304.3 L789.4,305.7 L790.0,307.1 L790.6,307.6 L791.2,307.9 L791.8,308.1 L792.4,308.4 L793.0,309.0 L793.6,309.4 L794.2,309.6 L794.8,309.9 L795.4,310.0 L796.0,310.4 L796.6,310.8 L797.2,310.9 L797.8,310.9 L798.4,310.9 L799.0,310.4 L799.6,309.6 L800.2,309.4 L800.8,309.6 L801.4,309.5 L802.0,309.3 L802.6,308.8 L803.2,308.3 L803.8,307.9 L804.4,307.3 L805.0,306.9 L805.6,306.5 L806.2,305.9 L806.8,305.2 L807.4,304.8 L808.0,304.3 L808.6,303.5 L809.2,302.8 L809.8,302.4 L810.4,302.1 L811.0,302.1 L811.6,302.7 L812.2,303.4 L812.8,303.6 L813.4,303.7 L814.0,304.3 L814.6,305.3 L815.2,306.3 L815.8,307.1 L816.4,307.9 L817.0,309.0 L817.6,309.8 L818.2,310.5 L818.8,311.3 L819.4,311.9 L820.0,313.3 L820.6,315.1 L821.2,316.1 L821.8,316.2 L822.4,317.0 L823.0,318.1 L823.6,318.7 L824.2,319.7 L824.8,320.8 L825.4,321.4 L826.0,321.9 L826.6,321.9 L827.2,321.9 L827.8,322.2 L828.4,322.8 L829.0,323.5 L829.6,323.9 L830.2,324.4 L830.8,324.7 L831.4,325.1 L832.0,325.6 L832.6,325.8 L833.2,326.1 L833.8,326.7 L834.4,326.7 L835.0,326.7 L835.6,327.1 L836.2,327.2 L836.8,327.6 L837.4,327.9 L838.0,327.9 L838.6,327.8 L839.2,328.0 L839.8,328.1 L840.4,328.3 L841.0,328.6 L841.6,328.5 L842.2,328.7 L842.8,329.0 L843.4,328.6 L844.0,328.4 L844.6,328.7 L845.2,328.9 L845.8,329.2 L846.4,329.4 L847.0,329.2 L847.6,329.2 L848.2,329.4 L848.8,329.2 L849.4,328.7 L850.0,328.4 L850.6,328.3 L851.2,328.4 L851.8,328.6 L852.4,328.3 L853.0,327.7 L853.6,327.7 L854.2,327.6 L854.8,327.1 L855.4,326.7 L856.0,326.4 L856.6,326.1 L857.2,326.1 L857.8,325.8 L858.4,325.4 L859.0,325.3 L859.6,324.9 L860.2,324.4 L860.8,324.4 L861.4,324.4 L862.0,324.1 L862.6,323.5 L863.2,322.6 L863.8,321.9 L864.4,322.0 L865.0,322.1 L865.6,321.4 L866.2,320.8 L866.8,320.7 L867.4,320.3 L868.0,320.0 L868.6,320.1 L869.2,320.1 L869.8,319.6 L870.4,319.5 L871.0,319.5 L871.6,319.1 L872.2,319.0 L872.8,318.7 L873.4,318.4 L874.0,318.7 L874.6,319.0 L875.2,319.0 L875.8,319.0 L876.4,319.2 L877.0,319.3 L877.6,319.5 L878.2,320.0 L878.8,320.5 L879.4,321.1 L880.0,321.9 L880.6,322.4 L881.2,322.7 L881.8,322.8 L882.4,323.1 L883.0,323.5 L883.6,324.0 L884.2,324.7 L884.8,325.3 L885.4,325.6 L886.0,325.9 L886.6,326.4 L887.2,327.1 L887.8,327.5 L888.4,327.9 L889.0,328.8 L889.6,328.9 L890.2,328.7 L890.8,328.8 L891.4,329.0 L892.0,329.5 L892.6,330.1 L893.2,330.5 L893.8,331.0 L894.4,331.3 L895.0,332.0 L895.6,332.8 L896.2,332.8 L896.8,333.1 L897.4,333.6 L898.0,333.7 L898.6,333.8 L899.2,333.9 L899.8,334.2 L900.4,334.6 L901.0,334.8 L901.6,334.9 L902.2,335.3 L902.8,335.8 L903.4,336.0 L904.0,335.9 L904.6,336.0 L905.2,336.5 L905.8,336.7 L906.4,336.2 L907.0,336.0 L907.6,336.8 L908.2,337.5 L908.8,337.5 L909.4,337.5 L910.0,337.7 L910.6,337.8 L911.2,338.0 L911.8,338.2 L912.4,338.5 L913.0,338.5 L913.6,338.5 L914.2,338.6 L914.8,338.5 L915.4,338.5 L916.0,338.6 L916.6,338.8 L917.2,339.3 L917.8,339.6 L918.4,339.3 L919.0,339.1 L919.6,339.5 L920.2,339.7 L920.8,339.8 L921.4,339.7 L922.0,339.9 L922.6,340.1 L923.2,339.9 L923.8,339.6 L924.4,339.4 L925.0,339.7 L925.6,339.9 L926.2,340.1 L926.8,340.3 L927.4,340.3 L928.0,340.3 L928.6,340.3 L929.2,340.0 L929.8,339.9 L930.4,340.4 L931.0,340.6 L931.6,340.3 L932.2,340.0 L932.8,339.9 L933.4,340.1 L934.0,340.3 L934.6,340.6 L935.2,340.7 L935.8,340.7 L936.4,340.3 L937.0,340.0 L937.6,340.3 L938.2,340.7 L938.8,341.1 L939.4,341.1 L940.0,341.1 L940.6,340.9 L941.2,340.4 L941.8,340.1 L942.4,340.4 L943.0,340.7 L943.6,340.6 L944.2,340.6 L944.8,340.4 L945.4,340.1 L946.0,340.1 L946.6,340.1 L947.2,340.3 L947.8,340.3 L948.4,339.8 L949.0,339.8 L949.6,340.3 L950.2,340.3 L950.8,340.0 L951.4,339.8 L952.0,340.0 L952.6,339.8 L953.2,339.3 L953.8,339.1 L954.4,338.7 L955.0,338.3 L955.6,338.6 L956.2,338.6 L956.8,338.7 L957.4,339.1 L958.0,338.9 L958.6,338.9 L959.2,339.4 L959.8,339.4 L960.4,339.0 L961.0,338.8 L961.6,338.3 L962.2,338.1 L962.8,338.0 L963.4,337.8 L964.0,338.2 L964.6,338.8 L965.2,338.7 L965.8,338.0 L966.4,337.2 L967.0,337.1 L967.6,337.5 L968.2,337.5 L968.8,337.3 L969.4,337.0" stroke="#D2472A" stroke-width="5.6"/>
</g>
<rect x="94.6" y="64.6" width="875.3" height="725.6999999999999" fill="none" stroke="#000" stroke-width="1.4"/>
<g fill="#4F8C42"><circle cx="214.5" cy="144.3" r="9.3"/><circle cx="313.5" cy="100.5" r="9.3"/><circle cx="390.4" cy="253.3" r="9.3"/><circle cx="595.6" cy="153.8" r="9.3"/><circle cx="652.5" cy="251.5" r="9.3"/><circle cx="660.9" cy="271.5" r="9.3"/><circle cx="772.9" cy="221.6" r="9.3"/><circle cx="763.8" cy="243" r="9.3"/><circle cx="819.7" cy="277.8" r="9.3"/><circle cx="877.6" cy="292.8" r="9.3"/></g>
<path d="M396.5,64.6V66.5M396.5,84.6V104.6M396.5,122.7V142.7M396.5,160.8V180.8M396.5,198.9V218.9M396.5,237.0V257.0M396.5,275.1V295.1M396.5,313.1V333.1M396.5,351.2V371.2M396.5,389.3V409.3M396.5,427.4V447.4M396.5,465.5V485.5M396.5,503.6V523.6M396.5,541.7V561.7M396.5,579.8V599.8M396.5,617.9V637.9M396.5,656.0V676.0M396.5,694.0V714.0M396.5,732.1V752.1M396.5,770.2V790.2M494.1,64.6V65.9M494.1,84.0V104.0M494.1,122.1V142.1M494.1,160.2V180.2M494.1,198.3V218.3M494.1,236.4V256.4M494.1,274.5V294.5M494.1,312.5V332.5M494.1,350.6V370.6M494.1,388.7V408.7M494.1,426.8V446.8M494.1,464.9V484.9M494.1,503.0V523.0M494.1,541.1V561.1M494.1,579.2V599.2M494.1,617.3V637.3M494.1,655.4V675.4M494.1,693.4V713.4M494.1,731.5V751.5M494.1,769.6V789.6" stroke="#ED7D31" stroke-width="3.4" fill="none"/>
<path d="M396.9,604.3L405.54999999999995,614.9L396.9,625.5L388.25,614.9ZM494.6,700.0L503.25,710.6L494.6,721.2L485.95000000000005,710.6ZM811.8,686.2L820.4,696.5L811.8,706.8L803.1999999999999,696.5ZM422.6,16.0L431.25,27.2L422.6,38.4L413.95000000000005,27.2Z" fill="#ED7D31"/>
<circle cx="137.4" cy="22.8" r="9.5" fill="#4F8C42"/>
<text x="154.7" y="38.3" font-size="53.3">IrO<tspan font-size="36" dy="14.7" dx="-1">2</tspan><tspan dy="-14.7" dx="-7"> rutile</tspan></text>
<text x="441.3" y="38.2" font-size="53.3" letter-spacing="-0.25">metallic Ir</text>
<text x="603.7" y="134.4" font-size="52" font-weight="bold" fill="#D2472A">IrO<tspan font-size="36" dy="14.3">2</tspan><tspan dy="-14.3">/Nb</tspan><tspan font-size="36" dy="14.3">2</tspan><tspan dy="-14.3">O</tspan><tspan font-size="36" dy="14.3">5</tspan><tspan dy="-14.3"> (B)</tspan></text>
<text x="609.3" y="402.5" font-size="52" font-weight="bold" fill="#3E5588">IrO<tspan font-size="36" dy="14.3">2</tspan><tspan dy="-14.3">/Nb</tspan><tspan font-size="36" dy="14.3">2</tspan><tspan dy="-14.3">O</tspan><tspan font-size="36" dy="14.3">5</tspan><tspan dy="-14.3"> (A)</tspan></text>
<text x="769.2" y="627.6" font-size="52" font-weight="bold" fill="#505050">IrO<tspan font-size="36" dy="14.3">2</tspan><tspan dy="-14.3" dx="-4.5"> (A)</tspan></text>
<text x="94.6" y="858" font-size="62.2" text-anchor="middle">20</text>
<text x="240.5" y="858" font-size="62.2" text-anchor="middle">30</text>
<text x="386.4" y="858" font-size="62.2" text-anchor="middle">40</text>
<text x="532.2" y="858" font-size="62.2" text-anchor="middle">50</text>
<text x="678.1" y="858" font-size="62.2" text-anchor="middle">60</text>
<text x="824.0" y="858" font-size="62.2" text-anchor="middle">70</text>
<text x="969.9" y="858" font-size="62.2" text-anchor="middle">80</text>
<text x="455.6" y="960.7" font-size="68.5">2</text>
<text transform="translate(491.8,960.7) scale(1.22,1)" font-size="67" style="font-family:'Liberation Serif',serif">θ</text>
<text x="545.2" y="960.7" font-size="68">/</text>
<text x="581.3" y="933.7" font-size="46.7">o</text>
<text transform="translate(48.9,813.2) rotate(-90)" font-size="67" letter-spacing="0.065">Normalized intensity / a.u.</text>
</svg></body></html>
